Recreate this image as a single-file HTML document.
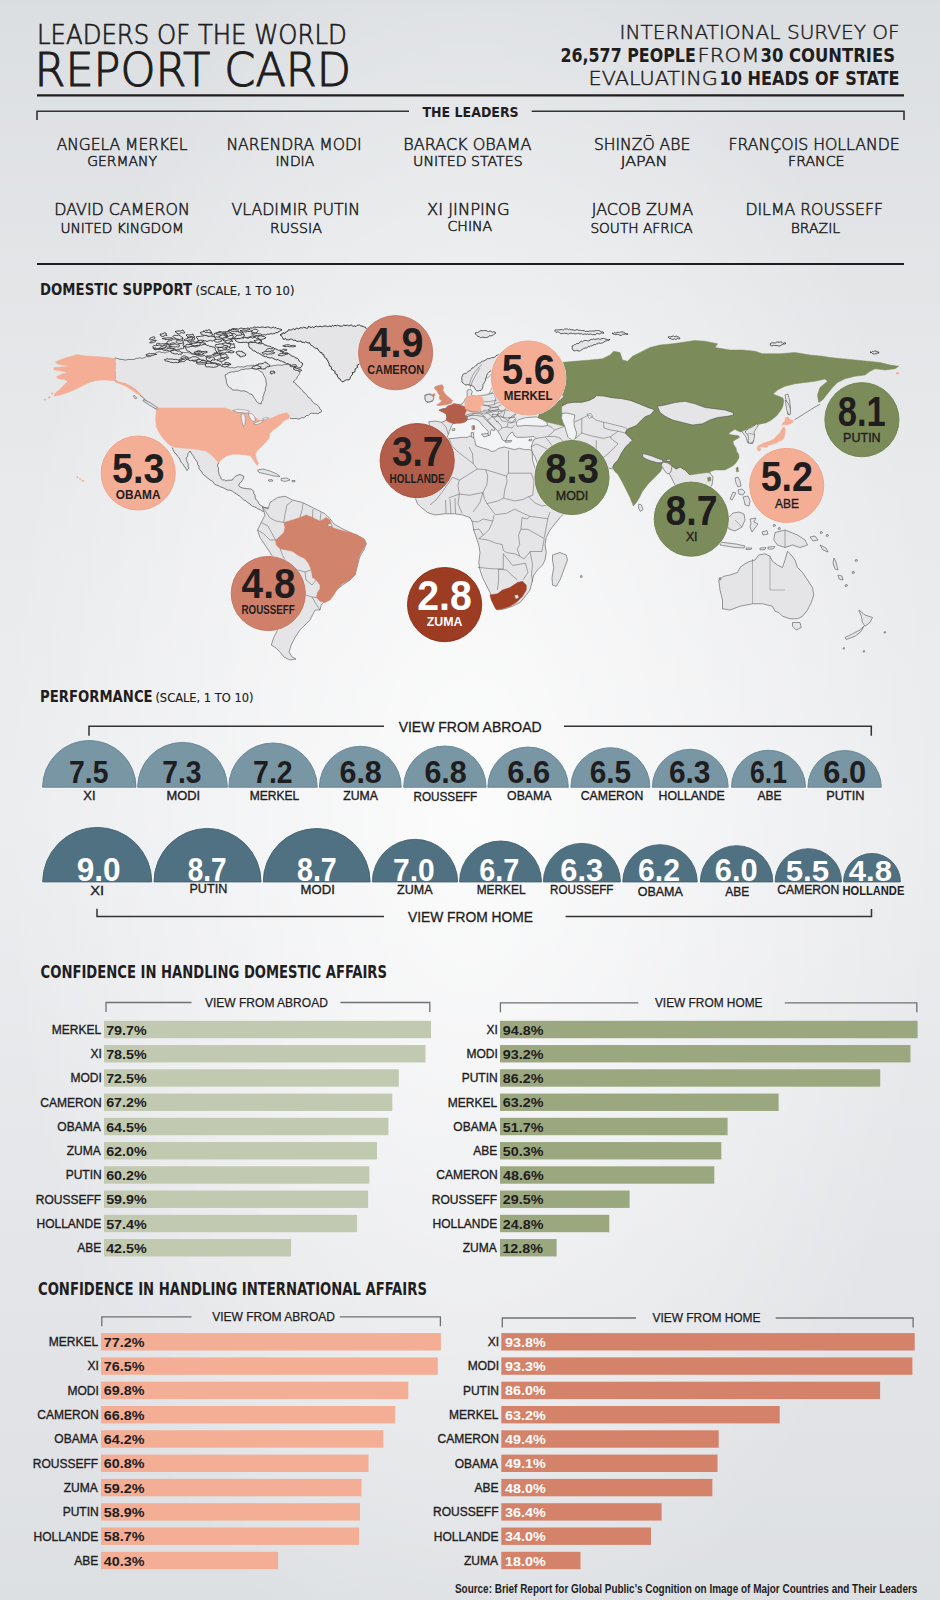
<!DOCTYPE html>
<html><head><meta charset="utf-8"><title>Leaders of the World Report Card</title>
<style>
html,body{margin:0;padding:0;width:940px;height:1600px;overflow:hidden;background:#e8e9eb}
svg{display:block}

</style></head><body>
<svg width="940" height="1600" viewBox="0 0 940 1600" font-family="Liberation Sans, sans-serif">
<defs>
<linearGradient id="bg" gradientUnits="userSpaceOnUse" x1="0" y1="0" x2="0" y2="1600">
<stop offset="0" stop-color="#dbdee1"/>
<stop offset="0.006" stop-color="#dcdfe2"/>
<stop offset="0.316" stop-color="#e9eaec"/>
<stop offset="0.51" stop-color="#ecedef"/>
<stop offset="0.79" stop-color="#e4e5e8"/>
<stop offset="1" stop-color="#dde0e3"/>
</linearGradient>
<radialGradient id="hl" gradientUnits="userSpaceOnUse" cx="470" cy="800" r="470" gradientTransform="translate(470 800) scale(1 1.915) translate(-470 -800)">
<stop offset="0" stop-color="#ffffff" stop-opacity="0.83"/>
<stop offset="1" stop-color="#ffffff" stop-opacity="0"/>
</radialGradient>
</defs>
<rect x="0" y="0" width="940" height="1600" fill="url(#bg)"/>
<rect x="0" y="0" width="940" height="1600" fill="url(#hl)"/>
<text x="37.03" y="44.30" font-size="26.34" font-family="DejaVu Sans" font-weight="200" fill="#1f1d1e" stroke="#1f1d1e" stroke-width="0.7" textLength="309.81" lengthAdjust="spacingAndGlyphs">LEADERS OF THE WORLD</text>
<text x="34.58" y="85.80" font-size="45.54" font-family="DejaVu Sans" font-weight="200" fill="#1f1d1e" stroke="#1f1d1e" stroke-width="1.15" textLength="316.39" lengthAdjust="spacingAndGlyphs">REPORT CARD</text>
<text x="619.59" y="38.50" font-size="20.30" font-family="DejaVu Sans" font-weight="200" fill="#1f1d1e" stroke="#1f1d1e" stroke-width="0.45" textLength="280.07" lengthAdjust="spacingAndGlyphs">INTERNATIONAL SURVEY OF</text>
<text x="560.45" y="61.80" font-size="19.62" font-family="DejaVu Sans" font-stretch="condensed" font-weight="bold" fill="#1f1d1e" textLength="135.30" lengthAdjust="spacingAndGlyphs">26,577 PEOPLE</text>
<text x="697.62" y="61.80" font-size="19.62" font-family="DejaVu Sans" font-weight="200" fill="#1f1d1e" stroke="#1f1d1e" stroke-width="0.45" textLength="61.78" lengthAdjust="spacingAndGlyphs">FROM</text>
<text x="760.51" y="61.80" font-size="19.62" font-family="DejaVu Sans" font-stretch="condensed" font-weight="bold" fill="#1f1d1e" textLength="134.49" lengthAdjust="spacingAndGlyphs">30 COUNTRIES</text>
<text x="588.64" y="85.00" font-size="19.62" font-family="DejaVu Sans" font-weight="200" fill="#1f1d1e" stroke="#1f1d1e" stroke-width="0.45" textLength="129.31" lengthAdjust="spacingAndGlyphs">EVALUATING</text>
<text x="719.62" y="85.00" font-size="19.62" font-family="DejaVu Sans" font-stretch="condensed" font-weight="bold" fill="#1f1d1e" textLength="179.83" lengthAdjust="spacingAndGlyphs">10 HEADS OF STATE</text>
<path d="M37.00 95.40 L904.00 95.40" fill="none" stroke="#1f1d1e" stroke-width="2.2"/>
<path d="M37.00 120.00 L37.00 111.20 L409.00 111.20" fill="none" stroke="#333" stroke-width="1.6"/>
<path d="M531.70 111.20 L904.00 111.20 L904.00 120.00" fill="none" stroke="#333" stroke-width="1.6"/>
<text x="422.54" y="116.90" font-size="14.40" font-family="DejaVu Sans" font-weight="bold" fill="#1f1d1e" textLength="96.08" lengthAdjust="spacingAndGlyphs">THE LEADERS</text>
<text x="56.64" y="150.10" font-size="16.32" font-family="DejaVu Sans" font-weight="200" fill="#262626" stroke="#262626" stroke-width="0.55" textLength="130.85" lengthAdjust="spacingAndGlyphs">ANGELA MERKEL</text>
<text x="87.24" y="166.40" font-size="13.99" font-family="DejaVu Sans" font-weight="200" fill="#262626" stroke="#262626" stroke-width="0.55" textLength="69.79" lengthAdjust="spacingAndGlyphs">GERMANY</text>
<text x="226.42" y="150.10" font-size="16.32" font-family="DejaVu Sans" font-weight="200" fill="#262626" stroke="#262626" stroke-width="0.55" textLength="135.20" lengthAdjust="spacingAndGlyphs">NARENDRA MODI</text>
<text x="275.42" y="166.40" font-size="13.99" font-family="DejaVu Sans" font-weight="200" fill="#262626" stroke="#262626" stroke-width="0.55" textLength="38.74" lengthAdjust="spacingAndGlyphs">INDIA</text>
<text x="403.34" y="150.10" font-size="16.32" font-family="DejaVu Sans" font-weight="200" fill="#262626" stroke="#262626" stroke-width="0.55" textLength="128.18" lengthAdjust="spacingAndGlyphs">BARACK OBAMA</text>
<text x="413.05" y="166.40" font-size="13.99" font-family="DejaVu Sans" font-weight="200" fill="#262626" stroke="#262626" stroke-width="0.55" textLength="109.58" lengthAdjust="spacingAndGlyphs">UNITED STATES</text>
<text x="593.92" y="150.10" font-size="16.32" font-family="DejaVu Sans" font-weight="200" fill="#262626" stroke="#262626" stroke-width="0.55" textLength="96.37" lengthAdjust="spacingAndGlyphs">SHINZŌ ABE</text>
<text x="620.82" y="166.40" font-size="13.99" font-family="DejaVu Sans" font-weight="200" fill="#262626" stroke="#262626" stroke-width="0.55" textLength="46.64" lengthAdjust="spacingAndGlyphs">JAPAN</text>
<text x="728.59" y="150.10" font-size="16.32" font-family="DejaVu Sans" font-weight="200" fill="#262626" stroke="#262626" stroke-width="0.55" textLength="171.11" lengthAdjust="spacingAndGlyphs">FRANÇOIS HOLLANDE</text>
<text x="787.99" y="166.40" font-size="13.99" font-family="DejaVu Sans" font-weight="200" fill="#262626" stroke="#262626" stroke-width="0.55" textLength="56.57" lengthAdjust="spacingAndGlyphs">FRANCE</text>
<text x="54.29" y="215.10" font-size="16.46" font-family="DejaVu Sans" font-weight="200" fill="#262626" stroke="#262626" stroke-width="0.55" textLength="135.50" lengthAdjust="spacingAndGlyphs">DAVID CAMERON</text>
<text x="60.47" y="232.70" font-size="14.27" font-family="DejaVu Sans" font-weight="200" fill="#262626" stroke="#262626" stroke-width="0.55" textLength="123.33" lengthAdjust="spacingAndGlyphs">UNITED KINGDOM</text>
<text x="231.52" y="215.10" font-size="16.46" font-family="DejaVu Sans" font-weight="200" fill="#262626" stroke="#262626" stroke-width="0.55" textLength="128.48" lengthAdjust="spacingAndGlyphs">VLADIMIR PUTIN</text>
<text x="269.96" y="232.70" font-size="14.27" font-family="DejaVu Sans" font-weight="200" fill="#262626" stroke="#262626" stroke-width="0.55" textLength="51.91" lengthAdjust="spacingAndGlyphs">RUSSIA</text>
<text x="427.04" y="215.10" font-size="16.46" font-family="DejaVu Sans" font-weight="200" fill="#262626" stroke="#262626" stroke-width="0.55" textLength="82.70" lengthAdjust="spacingAndGlyphs">XI JINPING</text>
<text x="447.53" y="231.00" font-size="14.27" font-family="DejaVu Sans" font-weight="200" fill="#262626" stroke="#262626" stroke-width="0.55" textLength="44.74" lengthAdjust="spacingAndGlyphs">CHINA</text>
<text x="591.81" y="215.10" font-size="16.46" font-family="DejaVu Sans" font-weight="200" fill="#262626" stroke="#262626" stroke-width="0.55" textLength="101.41" lengthAdjust="spacingAndGlyphs">JACOB ZUMA</text>
<text x="590.38" y="232.70" font-size="14.27" font-family="DejaVu Sans" font-weight="200" fill="#262626" stroke="#262626" stroke-width="0.55" textLength="102.37" lengthAdjust="spacingAndGlyphs">SOUTH AFRICA</text>
<text x="745.39" y="215.10" font-size="16.46" font-family="DejaVu Sans" font-weight="200" fill="#262626" stroke="#262626" stroke-width="0.55" textLength="137.62" lengthAdjust="spacingAndGlyphs">DILMA ROUSSEFF</text>
<text x="790.70" y="232.70" font-size="14.27" font-family="DejaVu Sans" font-weight="200" fill="#262626" stroke="#262626" stroke-width="0.55" textLength="49.44" lengthAdjust="spacingAndGlyphs">BRAZIL</text>
<path d="M37.00 264.00 L904.00 264.00" fill="none" stroke="#1f1d1e" stroke-width="2.2"/>
<text x="40.09" y="295.10" font-size="16.60" font-family="DejaVu Sans" font-stretch="condensed" font-weight="bold" fill="#1f1d1e" textLength="152.08" lengthAdjust="spacingAndGlyphs">DOMESTIC SUPPORT</text>
<text x="195.51" y="295.10" font-size="11.80" font-family="DejaVu Sans" font-stretch="condensed" fill="#1f1d1e" stroke="#1f1d1e" stroke-width="0.15" textLength="98.98" lengthAdjust="spacingAndGlyphs">(SCALE, 1 TO 10)</text>
<g id="map">
<path d="M115 358 L125 360 L135 359 L145 357.5 L152 355 L158 352 L165 353 L172 351 L180 352 L190 353 L200 355 L210 357 L218 360 L224 365 L230 368 L240 367 L250 366 L258 365 L265 366 L272 366 L280 365 L288 364 L295 367 L300 372 L297 378 L293 382 L298 386 L305 393 L312 401 L318 406 L322 411 L318 414 L311 413 L305 417 L298 419 L290 418 L286 419 L281.25 421.25 L277.5 426.25 L273.75 430 L270 433.75 L269.5 438.75 L266.25 442.5 L261.25 446.25 L257.5 450 L256.25 453.75 L257.5 457.5 L258.75 462.5 L257.5 464.5 L255 460 L252.5 455 L248.75 453.75 L242.5 454.5 L236.25 453 L230 453.75 L225 457.5 L221.25 460 L218.75 462.5 L217.5 466 L218.75 472.5 L221 478.75 L226 481 L232.5 480 L236 476 L240 474.5 L243.75 476.25 L242.5 480 L238.75 485 L241 487.5 L247.5 488.75 L252.5 490 L255 495 L256.25 500 L260 505 L265 507.5 L269 508.5 L268 511 L263.75 511.25 L257.5 508.75 L252.5 506.25 L247.5 502.5 L242.5 498.75 L237.5 495 L232.5 491.25 L227.5 490 L222.5 487.5 L216.25 485 L210 480 L203.75 475 L200 470 L197.5 462.5 L192.5 455 L190 451 L186 458 L189 468 L187 470.5 L182.5 463.75 L177.5 456.25 L173.75 451.25 L172 447.5 L171.25 445 L167.5 441.25 L162.5 436.25 L158.75 430 L156.25 422.5 L155 415 L155.5 408.75 L153.75 406.25 L147.5 402.5 L141.25 396.25 L136 390 L129 386 L120 382.5 L115 381 Z" fill="#e5e5e7"/>
<path d="M115.00 358.00 L116.68 358.28 L118.32 358.73 L119.91 359.46 L121.67 359.30 L123.33 359.68 L125.00 360.00 L126.68 359.93 L128.30 359.32 L130.00 359.51 L131.68 359.48 L133.37 359.49 L135.00 359.00 L136.60 358.31 L138.30 358.29 L139.93 357.80 L141.72 358.34 L143.36 357.96 L145.00 357.50 L146.58 356.40 L148.68 356.75 L150.42 356.11 L152.00 355.00 L153.58 354.40 L155.06 353.61 L156.33 352.41 L158.00 352.00 L159.83 351.72 L161.50 352.53 L163.32 352.27 L165.00 353.00 L166.66 352.17 L168.42 351.73 L170.11 351.00 L172.00 351.00 L173.60 351.16 L175.21 351.34 L176.75 351.97 L178.40 351.82 L180.00 352.00 L181.65 352.32 L183.33 352.33 L184.98 352.68 L186.67 352.62 L188.36 352.59 L190.00 353.00 L191.56 353.87 L193.23 354.20 L194.93 354.37 L196.62 354.56 L198.37 354.47 L200.00 355.00 L201.72 355.04 L203.38 355.44 L205.09 355.54 L206.61 356.62 L208.35 356.56 L210.00 357.00 L211.47 357.96 L213.24 358.08 L214.62 359.27 L216.27 359.76 L218.00 360.00 L219.85 360.83 L221.20 362.25 L222.21 364.10 L224.00 365.00 L225.51 365.72 L226.76 366.97 L228.55 367.15 L230.00 368.00 L231.62 367.37 L233.35 367.81 L235.03 367.80 L236.64 367.08 L238.29 366.71 L240.00 367.00 L241.65 366.65 L243.38 367.17 L245.03 366.78 L246.62 365.92 L248.31 365.89 L250.00 366.00 L251.55 365.36 L253.14 365.12 L254.84 365.72 L256.36 364.85 L258.00 365.00 L259.74 365.31 L261.51 365.44 L263.30 365.41 L265.00 366.00 L266.75 366.26 L268.50 365.59 L270.25 366.16 L272.00 366.00 L273.55 365.38 L275.19 365.51 L276.76 365.09 L278.37 364.95 L280.00 365.00 L281.66 365.31 L283.24 364.93 L284.77 364.19 L286.45 364.62 L288.00 364.00 L289.88 364.46 L291.55 365.39 L293.10 366.61 L295.00 367.00 L296.14 368.36 L297.81 369.19 L298.37 371.13 L300.00 372.00 L299.53 373.64 L298.74 375.12 L297.48 376.37 L297.00 378.00 L295.80 379.47 L294.49 380.83 L293.00 382.00 L294.54 382.63 L295.78 383.65 L296.69 385.07 L298.00 386.00 L299.37 386.97 L300.25 388.41 L301.60 389.40 L302.70 390.63 L303.48 392.19 L305.00 393.00 L306.18 394.32 L307.27 395.72 L308.20 397.27 L309.93 398.10 L311.12 399.42 L312.00 401.00 L313.21 402.60 L314.78 403.77 L316.68 404.54 L318.00 406.00 L319.27 407.04 L319.79 408.66 L320.62 410.05 L322.00 411.00 L320.87 412.27 L319.04 412.60 L318.00 414.00 L316.31 413.33 L314.52 413.39 L312.74 413.34 L311.00 413.00 L309.74 414.36 L308.28 415.42 L306.22 415.58 L305.00 417.00 L303.33 417.78 L301.44 417.78 L299.82 418.76 L298.00 419.00 L296.44 418.45 L294.81 418.49 L293.17 418.63 L291.56 418.55 L290.00 418.00" fill="none" stroke="#333" stroke-width="0.6" stroke-linejoin="round"/>
<path d="M218.75 462.50 L217.90 464.17 L217.50 466.00 L218.28 467.54 L218.42 469.19 L218.37 470.89 L218.75 472.50 L218.95 474.19 L219.76 475.67 L220.66 477.11 L221.00 478.75 L222.48 479.92 L224.47 479.95 L226.00 481.00 L227.54 480.22 L229.21 480.25 L230.87 480.19 L232.50 480.00 L233.30 478.35 L234.57 477.10 L236.00 476.00 L237.95 475.11 L240.00 474.50 L241.84 475.45 L243.75 476.25 L243.51 478.25 L242.50 480.00 L241.37 481.76 L239.66 483.08 L238.75 485.00 L239.48 486.60 L241.00 487.50 L242.59 487.98 L244.21 488.33 L245.86 488.53 L247.50 488.75 L249.26 488.78 L250.96 489.09 L252.50 490.00 L253.81 491.43 L253.76 493.54 L255.00 495.00 L255.20 496.72 L255.34 498.46 L256.25 500.00 L257.92 501.35 L258.63 503.42 L260.00 505.00 L261.68 505.82 L263.22 506.89 L265.00 507.50 L267.05 507.81 L269.00 508.50 L268.00 511.00 L265.84 510.58 L263.75 511.25 L262.01 511.06 L260.64 509.95 L259.16 509.13 L257.50 508.75 L256.03 507.52 L254.28 506.85 L252.50 506.25 L250.97 504.82 L249.36 503.49 L247.50 502.50 L246.11 500.88 L244.07 500.13 L242.50 498.75 L240.96 497.34 L239.43 495.90 L237.50 495.00 L236.08 493.42 L234.11 492.57 L232.50 491.25 L230.91 490.52 L229.26 490.03 L227.50 490.00 L225.87 489.10 L224.23 488.21 L222.50 487.50 L220.89 487.00 L219.41 486.17 L217.86 485.51 L216.25 485.00 L214.71 484.36 L213.85 482.88 L212.84 481.58 L211.51 480.67 L210.00 480.00 L208.91 478.80 L207.42 478.10 L206.41 476.80 L205.06 475.93 L203.75 475.00 L202.45 473.37 L201.55 471.44 L200.00 470.00 L198.94 468.27 L199.01 466.16 L197.63 464.54 L197.50 462.50 L196.59 460.94 L195.48 459.51 L194.25 458.16 L193.68 456.38 L192.50 455.00 L191.25 453.00 L190.00 451.00 L189.09 452.34 L188.00 453.57 L187.83 455.33 L187.27 456.87 L186.00 458.00 L186.71 459.60 L186.81 461.39 L187.81 462.91 L188.35 464.56 L188.07 466.46 L189.00 468.00 L187.86 469.14 L187.00 470.50 L186.05 469.19 L185.56 467.56 L184.14 466.56 L183.55 465.00 L182.50 463.75 L181.22 462.43 L180.44 460.79 L179.78 459.06 L178.88 457.50 L177.50 456.25 L176.58 454.33 L174.90 452.99 L173.75 451.25 L172.96 449.34 L172.00 447.50" fill="none" stroke="#333" stroke-width="0.6" stroke-linejoin="round"/>
<path d="M155.50 408.75 L153.75 406.25 L152.08 405.49 L150.42 404.72 L149.06 403.44 L147.50 402.50 L146.51 400.99 L145.27 399.73 L143.91 398.59 L142.85 397.15 L141.25 396.25 L140.01 395.16 L138.87 393.98 L138.06 392.53 L136.86 391.41 L136.00 390.00 L134.44 389.47 L133.15 388.48 L131.87 387.48 L130.40 386.81 L129.00 386.00 L127.43 385.61 L126.14 384.49 L124.69 383.76 L122.98 383.72 L121.33 383.52 L120.00 382.50 L118.19 382.49 L116.78 381.11 L115.00 381.00 L114.50 379.36 L115.23 377.71 L115.08 376.07 L114.79 374.43 L115.32 372.79 L114.47 371.14 L114.60 369.50 L114.95 367.86 L114.48 366.21 L115.36 364.57 L114.71 362.93 L114.60 361.29 L114.50 359.64 L115.00 358.00" fill="none" stroke="#333" stroke-width="0.6" stroke-linejoin="round"/>
<path d="M225 375 L225.28 376.7 L225.89 378.32 L226.11 380.03 L226.5 381.71 L226.76 383.42 L227.5 385 L228.39 386.61 L229.86 387.64 L231.48 388.52 L232.5 390 L234.29 390.15 L236.11 390.01 L237.91 390 L239.65 390.68 L241.41 391.13 L243.25 390.72 L245 391.25 L246.61 391.78 L248.08 392.6 L249.4 393.69 L250.99 394.27 L252.5 395 L253.4 396.57 L254.27 398.16 L255.6 399.44 L256.23 401.18 L257.5 402.5 L259.23 403.55 L261.25 403.75 L261.31 401.88 L262.71 400.38 L262.99 398.57 L262.86 396.64 L263.75 395 L264.12 393.32 L264.72 391.7 L265.44 390.11 L265.29 388.3 L265.91 386.69 L266.25 385 L266.35 383.06 L265.95 381.2 L265.79 379.29 L265 377.5 L263.96 375.69 L263.15 373.75 L262 372 L260.35 371.54 L259.11 370.28 L257.66 369.44 L256 369 L254.01 368.68 L252.02 368.43 L250 368.5 L248.05 369.14 L245.93 368.73 L244 369.5 L242.24 369.43 L240.61 369.87 L239.11 370.77 L237.5 371.25 L235.57 371.25 L233.78 372.07 L231.8 371.74 L230 372.5 L228.16 372.98 L226.74 374.32 Z" fill="url(#bg)"/>
<path d="M225 375 L225.28 376.7 L225.89 378.32 L226.11 380.03 L226.5 381.71 L226.76 383.42 L227.5 385 L228.39 386.61 L229.86 387.64 L231.48 388.52 L232.5 390 L234.29 390.15 L236.11 390.01 L237.91 390 L239.65 390.68 L241.41 391.13 L243.25 390.72 L245 391.25 L246.61 391.78 L248.08 392.6 L249.4 393.69 L250.99 394.27 L252.5 395 L253.4 396.57 L254.27 398.16 L255.6 399.44 L256.23 401.18 L257.5 402.5 L259.23 403.55 L261.25 403.75 L261.31 401.88 L262.71 400.38 L262.99 398.57 L262.86 396.64 L263.75 395 L264.12 393.32 L264.72 391.7 L265.44 390.11 L265.29 388.3 L265.91 386.69 L266.25 385 L266.35 383.06 L265.95 381.2 L265.79 379.29 L265 377.5 L263.96 375.69 L263.15 373.75 L262 372 L260.35 371.54 L259.11 370.28 L257.66 369.44 L256 369 L254.01 368.68 L252.02 368.43 L250 368.5 L248.05 369.14 L245.93 368.73 L244 369.5 L242.24 369.43 L240.61 369.87 L239.11 370.77 L237.5 371.25 L235.57 371.25 L233.78 372.07 L231.8 371.74 L230 372.5 L228.16 372.98 L226.74 374.32 Z" fill="url(#hl)" stroke="#333" stroke-width="0.6" stroke-linejoin="round"/>
<path d="M222 333 L223.06 332.01 L224.47 332.05 L225.77 331.75 L227.12 331.6 L228.24 330.8 L229.28 329.75 L230.89 330.35 L232 329.5 L233.28 328.77 L234.71 329.67 L235.96 328.67 L237.31 328.77 L238.7 329.28 L239.95 328.25 L241.29 328.14 L242.67 328.52 L244.03 328.69 L245.38 328.72 L246.69 328.39 L248 328 L249.44 328.52 L250.8 327.79 L252.24 328.33 L253.56 327.02 L254.97 327.11 L256.4 327.44 L257.78 327.01 L259.22 327.52 L260.61 327.29 L262 327 L263.4 327.08 L264.78 327.58 L266.2 327.23 L267.61 326.94 L269.01 327.08 L270.38 327.78 L271.78 327.91 L273.21 326.99 L274.58 327.94 L276 327.5 L276.95 328.61 L278.39 328.53 L279.56 329.09 L280.96 329.11 L282 330 L280.81 330.54 L279.66 331.16 L278.43 331.62 L277.63 332.92 L275.87 332.33 L275 333.5 L273.7 333.63 L272.42 333.94 L271.05 333.53 L269.79 334.01 L268.5 334.26 L267.17 334.13 L265.97 335.15 L264.59 334.65 L263.31 334.97 L262 335 L260.56 334.59 L259.24 334.86 L258.05 335.99 L256.67 335.93 L255.42 336.63 L254.02 336.42 L252.59 336.12 L251.24 336.22 L250 337 L248.67 337.2 L247.37 337.59 L246.05 337.93 L244.65 337.5 L243.26 337.24 L242.06 338.51 L240.62 337.78 L239.42 339 L238 338.5 L236.55 338.86 L235.12 338.74 L233.73 338.02 L232.27 338.46 L230.85 338.35 L229.44 337.9 L228 338 L226.65 337.59 L226.21 336.09 L224.66 335.91 L224.01 334.66 L222.78 334.1 Z" fill="#e5e5e7" stroke="#222" stroke-width="0.85" stroke-linejoin="round"/>
<path d="M214 334 L215.04 333.11 L216.42 333.04 L217.57 332.42 L218.73 331.84 L220 331.5 L221.53 331.76 L222.99 332.29 L224.62 332.16 L226 333 L225.29 334.29 L223.87 334.87 L222.86 335.86 L222 337 L220.6 337.06 L219.16 336.71 L217.79 337.14 L216.36 336.9 L215 337.5 L214.14 335.85 Z" fill="#e5e5e7" stroke="#222" stroke-width="0.85" stroke-linejoin="round"/>
<path d="M235 338.5 L236.41 338.71 L237.79 338.68 L239.18 338.69 L240.48 337.74 L241.85 337.62 L243.3 338.34 L244.59 337.23 L246 337.5 L247.3 338.25 L248.64 338.15 L250.02 337.15 L251.35 337.36 L252.65 338.09 L254.01 337.5 L255.36 337.33 L256.65 338.41 L258 338 L259.4 338.91 L260.42 340.32 L262 341 L260.76 341.76 L259.36 341.63 L257.95 341.5 L256.79 342.66 L255.41 342.66 L254 342.5 L252.67 342.24 L251.33 341.92 L250 341.84 L248.67 343.04 L247.33 342.49 L246 342.14 L244.67 342.5 L243.33 342.24 L242 342.5 L240.39 342.55 L238.85 342.33 L237.37 341.91 L236 341 L234.9 339.99 Z" fill="#e5e5e7" stroke="#222" stroke-width="0.85" stroke-linejoin="round"/>
<path d="M222 339 L223.34 338.99 L224.67 338.85 L226.01 338.85 L227.3 338.17 L228.64 338.14 L230 338.5 L231.29 339.21 L231.66 340.84 L233 341.5 L231.46 341.13 L230.07 341.52 L228.92 342.95 L227.53 343.3 L226 343 L225.45 341.55 L223.96 341.04 L223.26 339.74 Z" fill="#e5e5e7" stroke="#222" stroke-width="0.85" stroke-linejoin="round"/>
<path d="M196 337 L197.39 336.55 L198.85 336.53 L200.29 336.38 L201.7 336.05 L203.16 336.07 L204.47 335.04 L206 335.5 L207.3 335.95 L208.61 336.31 L210.06 335.56 L211.34 336.1 L212.63 336.67 L214 336.5 L214.78 337.6 L215.7 338.62 L216 340 L214.79 340.68 L213.43 340.41 L212.25 341.31 L210.77 340.31 L209.5 340.65 L208.24 341 L207 341.5 L205.56 340.83 L204.02 340.99 L202.49 341.13 L201.02 340.69 L199.5 340.66 L198 340.5 L197.92 339 L197.04 337.95 Z" fill="#e5e5e7" stroke="#222" stroke-width="0.85" stroke-linejoin="round"/>
<path d="M186 335 L187.35 334.46 L188.88 335.17 L190.25 334.74 L191.66 334.59 L193 334 L193.63 335.74 L195 337 L193.62 337.33 L192.12 336.85 L190.72 337.07 L189.36 337.53 L188 338 L187.31 336.29 Z" fill="#e5e5e7" stroke="#222" stroke-width="0.85" stroke-linejoin="round"/>
<path d="M168 341 L169.42 341.03 L170.63 340.21 L172.08 340.3 L173.19 339.08 L174.61 339.12 L176 339 L177.41 339.36 L178.99 339.14 L180.26 340.01 L181.55 340.79 L183 341 L183.03 342.42 L183.77 343.75 L182.98 345.29 L183.57 346.63 L184 348 L182.66 348.62 L181.14 348.58 L179.77 349.11 L178.39 349.56 L177 350 L175.56 349.75 L174.39 348.53 L172.85 348.61 L171.48 348.13 L170 348 L169.29 346.45 L168.54 344.93 L167 344 L166.87 342.29 Z" fill="#e5e5e7" stroke="#222" stroke-width="0.85" stroke-linejoin="round"/>
<path d="M186 345 L187.46 344.87 L188.92 344.76 L190.22 343.81 L191.69 343.72 L193.02 342.95 L194.49 342.87 L196 343 L197.45 343.04 L198.94 342.87 L200.34 343.3 L201.63 344.42 L203.13 344.14 L204.57 344.3 L206 344.5 L207.14 345.54 L208.64 345.42 L209.79 346.41 L211.28 346.35 L212.54 347 L214 347 L215.26 347.94 L215.38 349.57 L215.94 350.94 L217 352 L216.15 353.22 L214.37 352.81 L213.74 354.41 L212.35 354.7 L211.4 355.74 L210 356 L208.57 356.01 L207.14 355.84 L205.71 356.62 L204.29 355.38 L202.86 356.11 L201.43 355.96 L200 356 L198.76 355.44 L197.37 355.32 L196.05 355 L194.93 354.08 L193.6 353.78 L192.19 353.72 L191 353 L189.94 351.76 L188.32 351.22 L186.82 350.53 L186 349 L185.64 347.67 L185.36 346.33 Z" fill="#e5e5e7" stroke="#222" stroke-width="0.85" stroke-linejoin="round"/>
<path d="M218 345 L219.42 344.28 L221.06 344.85 L222.47 344.1 L224 344 L224.27 345.54 L225.2 346.68 L226.79 347.43 L227 349 L225.4 349.16 L224.18 349.97 L223.56 351.76 L222 352 L220.92 350.83 L219.29 350.75 L218 350 L217.97 348.33 L218.66 346.67 Z" fill="#e5e5e7" stroke="#222" stroke-width="0.85" stroke-linejoin="round"/>
<path d="M228 344 L229.47 343.52 L231 343.78 L232.55 344.24 L234 343.5 L234.03 345.07 L234.71 346.49 L235 348 L233.27 347.5 L231.62 347.89 L230 348.5 L229.47 346.94 L228.17 345.72 Z" fill="#e5e5e7" stroke="#222" stroke-width="0.85" stroke-linejoin="round"/>
<path d="M220 355 L221.53 354.92 L222.99 354.44 L224.43 353.84 L226 354 L227.1 355.58 L227 357.5 L225.5 357.59 L224.04 358.27 L222.51 357.95 L221 358 L220.72 356.43 Z" fill="#e5e5e7" stroke="#222" stroke-width="0.85" stroke-linejoin="round"/>
<path d="M248 343 L249.33 342.77 L250.63 342.34 L252.01 342.61 L253.32 342.22 L254.71 342.55 L256 342 L257.24 342.42 L258.3 343.42 L259.57 343.73 L260.91 343.81 L262.36 343.52 L263.66 343.73 L264.59 345.15 L266 345 L267.1 345.87 L268.44 346.16 L269.82 346.32 L271.12 346.7 L272.15 347.74 L273.47 348.08 L274.7 348.62 L276 349 L277.18 349.67 L278.37 350.33 L279.91 350.1 L281.13 350.67 L282 352.12 L283.28 352.54 L284.55 352.99 L286 353 L287.54 353.05 L288.77 353.7 L289.89 354.59 L291.05 355.41 L292.17 356.28 L293.75 356.25 L294.72 357.43 L296 358 L297.39 358.4 L298.38 359.27 L298.84 360.76 L299.95 361.48 L300.88 362.43 L302.12 363.01 L303 364 L302.02 365.35 L301.32 366.91 L300 368 L298.61 367.88 L297.42 367 L296.11 366.54 L294.52 367.24 L293.2 366.85 L292 366 L290.86 364.95 L289.41 364.51 L288.17 363.66 L286.49 363.69 L285.29 362.76 L284 362 L282.65 361.95 L281.62 360.83 L280.2 361.05 L279.06 360.29 L277.95 359.47 L276.43 359.98 L275.27 359.31 L274 359 L272.85 358.29 L271.67 357.69 L270.22 357.97 L268.95 357.68 L267.59 357.67 L266.65 356.25 L265.08 356.94 L264 356 L262.41 355.86 L261.37 354.59 L259.99 354.02 L258.78 353.1 L257.21 352.92 L256 352 L255.01 350.88 L253.27 350.89 L252.18 349.93 L251.33 348.61 L250 348 L248.96 346.97 L248.74 345.6 L248.79 344.13 Z" fill="#e5e5e7" stroke="#222" stroke-width="0.85" stroke-linejoin="round"/>
<path d="M254 340.5 L255.52 340.65 L256.97 339.95 L258.46 339.63 L260 340 L261.15 341.02 L262 342.3 L260.47 342.11 L259.02 342.74 L257.54 343.21 L256 342.8 L255.22 341.46 Z" fill="#e5e5e7" stroke="#222" stroke-width="0.85" stroke-linejoin="round"/>
<path d="M258 364 L259.36 363.76 L260.81 363.9 L262.15 363.6 L263.47 363.23 L264.65 362.25 L266 362 L266.7 363.3 L268.19 363.81 L269.18 364.82 L270 366 L268.86 366.73 L267.33 366.66 L266.15 367.31 L265.36 368.72 L264 369 L262.47 368.94 L260.97 368.69 L259.47 368.44 L258 368 L257.85 366.67 L257.84 365.33 Z" fill="#e5e5e7" stroke="#222" stroke-width="0.85" stroke-linejoin="round"/>
<path d="M270 372 L271.23 371.25 L272.69 371.42 L274 371 L275 373 L273.57 372.93 L272.32 373.61 L271 374 Z" fill="#e5e5e7" stroke="#222" stroke-width="0.85" stroke-linejoin="round"/>
<path d="M160 334 L161.58 334.21 L163.01 333.59 L164.43 332.8 L166 333 L166.16 334.38 L167 335.5 L165.46 335.09 L164.03 336.05 L162.56 336.54 L161 336 Z" fill="#e5e5e7" stroke="#222" stroke-width="0.85" stroke-linejoin="round"/>
<path d="M175 331.5 L176.34 331.27 L177.68 331.06 L179.02 330.84 L180.45 331.14 L181.71 330.46 L183 330 L183.67 331.52 L185 332.5 L183.74 333.27 L182.33 332.77 L180.95 332.6 L179.74 333.74 L178.41 333.91 L177 333.5 L176.23 332.27 Z" fill="#e5e5e7" stroke="#222" stroke-width="0.85" stroke-linejoin="round"/>
<path d="M203 331 L204.48 331.35 L205.72 330.02 L207.23 330.59 L208.53 329.71 L210 330 L210.73 331.46 L212 332.5 L210.59 332.39 L209.23 333.06 L207.83 333.19 L206.37 332.53 L205 333 L204.02 331.98 Z" fill="#e5e5e7" stroke="#222" stroke-width="0.85" stroke-linejoin="round"/>
<path d="M240 330.5 L241.47 330.73 L242.84 330.07 L244.26 329.85 L245.78 330.58 L247.17 330.03 L248.57 329.63 L250 329.5 L250.96 330.54 L252 331.5 L250.47 331.33 L248.97 331.48 L247.45 331.32 L246.01 332.16 L244.46 331.71 L243 332.3 L241.62 331.2 Z" fill="#e5e5e7" stroke="#222" stroke-width="0.85" stroke-linejoin="round"/>
<path d="M153 347 L154.47 347.29 L155.86 347.02 L157.27 346.86 L158.68 346.74 L160 346 L160.47 347.86 L162 349 L160.57 349.01 L159.2 349.37 L157.76 349.31 L156.34 349.38 L155 350 L153.91 348.56 Z" fill="#e5e5e7" stroke="#222" stroke-width="0.85" stroke-linejoin="round"/>
<path d="M236 352 L237.48 351.64 L238.92 351.01 L240.56 351.58 L242 351 L242.51 352.49 L244.12 352.88 L245.33 353.67 L246 355 L244.63 355.89 L243.03 356.1 L241.59 356.78 L240 357 L239.51 355.34 L237.52 354.89 L236.79 353.42 Z" fill="#e5e5e7" stroke="#222" stroke-width="0.85" stroke-linejoin="round"/>
<path d="M206 358 L207.3 357.38 L208.68 358.04 L210.02 358.14 L211.31 357.22 L212.63 356.97 L214 357.5 L214.55 358.73 L215 360 L213.58 360.08 L212.12 359.83 L210.89 361.24 L209.48 361.34 L208 361 L206.63 359.74 Z" fill="#e5e5e7" stroke="#222" stroke-width="0.85" stroke-linejoin="round"/>
<path d="M172.7 338.4 L170.7 338.98 L169.18 339.56 L167.56 339.46 L165.97 339.6 L164.44 339.11 L162.23 338.62 L164.37 338.03 L165.97 338.14 L167.53 337.73 L169.4 337.87 L171.27 337.78 Z" fill="#e5e5e7" stroke="#222" stroke-width="0.8" stroke-linejoin="round"/>
<path d="M195.14 339.05 L193.7 339.84 L191.24 340.14 L189.56 338.7 L187.84 337.34 L189.77 336.71 L192 336.89 L193.89 337.76 Z" fill="#e5e5e7" stroke="#222" stroke-width="0.8" stroke-linejoin="round"/>
<path d="M169.86 345.29 L169.09 346.39 L166.75 346.44 L164.91 345.99 L163.98 345.04 L164.4 343.86 L166.87 343.64 L168.96 344.22 Z" fill="#e5e5e7" stroke="#222" stroke-width="0.8" stroke-linejoin="round"/>
<path d="M183.49 341.8 L182.76 343.08 L181.4 343.56 L179.96 343.38 L178.35 343.46 L176.89 342.79 L175.95 341.21 L177.76 340.16 L178.94 339.5 L180.28 339.33 L182.44 340.62 Z" fill="#e5e5e7" stroke="#222" stroke-width="0.8" stroke-linejoin="round"/>
<path d="M175.21 343.51 L174.74 344.88 L172.55 346 L170.05 346.51 L169.37 345.48 L169.47 344.27 L171.59 343.13 L173.87 342.84 Z" fill="#e5e5e7" stroke="#222" stroke-width="0.8" stroke-linejoin="round"/>
<path d="M179.48 345.72 L179.09 346.8 L177.78 347.23 L176.44 346.56 L175.14 347.12 L173.81 346.93 L172.36 346.71 L170.94 346.23 L169.43 346.48 L167.98 346.3 L166.12 344.96 L167.77 344.31 L169.55 344.23 L171.04 344.62 L172.52 344.59 L173.98 344.03 L175.29 343.99 L176.56 344.37 L177.79 345.01 L179.15 344.6 Z" fill="#e5e5e7" stroke="#222" stroke-width="0.8" stroke-linejoin="round"/>
<path d="M156.44 340.53 L155.07 341.6 L153.36 342.47 L151.25 342.92 L149.59 342.75 L151.15 341.63 L152.78 340.69 L155.04 340.23 Z" fill="#e5e5e7" stroke="#222" stroke-width="0.8" stroke-linejoin="round"/>
<path d="M200.47 344.61 L199.79 345.67 L198.48 345.92 L197.23 346.47 L195.95 346.91 L194.54 346.62 L193.26 345.97 L191.93 346.03 L190.58 346.28 L188.83 345.73 L190.29 344.83 L191.6 344.46 L192.97 344.4 L194.3 344.13 L195.82 344.08 L197.32 343.72 L198.85 343.92 Z" fill="#e5e5e7" stroke="#222" stroke-width="0.8" stroke-linejoin="round"/>
<path d="M182.72 339.32 L182.42 340.53 L180.46 341.1 L178.71 340.81 L177.78 339.94 L178.34 338.82 L180.14 338.52 L182.1 338.26 Z" fill="#e5e5e7" stroke="#222" stroke-width="0.8" stroke-linejoin="round"/>
<path d="M194.55 345.21 L194.12 346.26 L192.53 345.86 L191.05 346.45 L189.55 346.83 L187.77 347.18 L185.97 346.89 L184.06 346.31 L185.63 345.33 L187.34 344.34 L189.31 344.5 L191.09 344.52 L192.88 344.61 Z" fill="#e5e5e7" stroke="#222" stroke-width="0.8" stroke-linejoin="round"/>
<path d="M155.14 337.43 L154.33 338.73 L152.37 339.56 L150.57 339.89 L149.49 339.39 L149.93 338.31 L151.65 337.48 L153.85 336.75 Z" fill="#e5e5e7" stroke="#222" stroke-width="0.8" stroke-linejoin="round"/>
<path d="M203.85 340.43 L202.7 341.41 L201.4 342.2 L199.98 342.71 L198.51 342.51 L197.12 343.02 L196.09 342.72 L195.67 342 L196.99 341.82 L198.19 341.27 L199.39 340.73 L200.74 340.11 L202.2 340.31 Z" fill="#e5e5e7" stroke="#222" stroke-width="0.8" stroke-linejoin="round"/>
<path d="M183.28 338.21 L180.9 339.11 L179.32 339.56 L177.73 339.19 L176.24 338.78 L174.93 337.98 L173.65 337.37 L172.72 336.31 L174.89 335.19 L176.71 335.54 L178.48 335 L179.97 335.77 L181.47 336.51 Z" fill="#e5e5e7" stroke="#222" stroke-width="0.8" stroke-linejoin="round"/>
<path d="M170.62 346.26 L169.21 346.66 L167.93 347.37 L166.63 346.64 L165.17 347.36 L163.84 346.89 L162.46 346.79 L160.74 346.85 L159.25 345.77 L157.54 345.74 L156.15 344.17 L157.38 343.24 L158.9 343.47 L160.23 343.9 L161.57 343.97 L162.92 343.6 L164.32 344.3 L165.99 343.74 L167.36 344.55 L169.12 345.16 Z" fill="#e5e5e7" stroke="#222" stroke-width="0.8" stroke-linejoin="round"/>
<path d="M201.61 344.54 L200.2 344.59 L198.9 345.14 L197.37 345.33 L196.04 344.59 L194.6 344.31 L193.18 343.99 L191.99 343.01 L190.48 342.96 L189.07 342.6 L187.51 341.34 L189.51 340.9 L190.86 341.53 L192.37 341.06 L193.75 341.49 L195.32 342.27 L197.09 342.28 L198.73 342.81 L199.91 344.11 Z" fill="#e5e5e7" stroke="#222" stroke-width="0.8" stroke-linejoin="round"/>
<path d="M230.62 345.3 L230.12 346.5 L228.36 347.09 L226.55 346.7 L224.89 345.75 L222.99 345.56 L221.72 344.05 L223.75 343.16 L225.4 342.9 L227.02 343.34 L228.83 343.71 L230.65 343.97 Z" fill="#e5e5e7" stroke="#222" stroke-width="0.8" stroke-linejoin="round"/>
<path d="M205.55 343.35 L204.15 343.99 L202.78 344.69 L201.49 345.26 L200.05 344.63 L198.78 345.42 L197.41 345.36 L196.02 345.62 L194.63 345.92 L193.23 345.44 L191.36 344.83 L191.42 343.71 L192.81 343.22 L194.27 343.17 L195.75 343.21 L197.13 342.7 L198.56 342.62 L199.96 343.11 L201.39 342.97 L202.82 342.63 L204.18 343.1 Z" fill="#e5e5e7" stroke="#222" stroke-width="0.8" stroke-linejoin="round"/>
<path d="M227.62 346.66 L226.08 347.41 L224.55 347.88 L223 348.27 L221.69 347.54 L220.29 347.53 L218.86 347.75 L217.42 346.8 L218.37 345.71 L219.91 345.82 L221.4 344.97 L222.96 345.47 L224.46 345.37 L225.95 345.82 L227.46 345.61 Z" fill="#e5e5e7" stroke="#222" stroke-width="0.8" stroke-linejoin="round"/>
<path d="M226.59 335.21 L225.34 336.26 L223.2 337.11 L221.02 337.09 L218.86 336.8 L220.48 335.64 L222.72 334.78 L224 334.36 L225.34 334.56 Z" fill="#e5e5e7" stroke="#222" stroke-width="0.8" stroke-linejoin="round"/>
<path d="M233.82 338.72 L232.31 339.1 L230.84 339.63 L228.96 340.03 L227.06 340.33 L225.62 340.77 L224.36 339.45 L222.92 339.89 L221.7 339.02 L221.63 337.84 L222.99 338.15 L224.3 337.38 L225.66 337.81 L226.99 337.62 L228.57 337.41 L230.14 337.55 L231.71 337.74 Z" fill="#e5e5e7" stroke="#222" stroke-width="0.8" stroke-linejoin="round"/>
<path d="M222.1 340.75 L220.03 341.65 L217.73 342.32 L215.24 341.76 L214.16 340.83 L214.61 339.64 L216.16 339.51 L217.7 339.29 L219.15 339.24 L220.55 339.68 Z" fill="#e5e5e7" stroke="#222" stroke-width="0.8" stroke-linejoin="round"/>
<path d="M224.02 345.59 L222.99 346.87 L221.31 347.3 L219.58 347.35 L217.96 347.33 L216.36 347.06 L215.08 345.95 L215.71 344.58 L217.61 344.5 L219.45 344.03 L221.31 343.88 L223.13 344.31 Z" fill="#e5e5e7" stroke="#222" stroke-width="0.8" stroke-linejoin="round"/>
<path d="M233.2 337.33 L231.75 338.31 L230.24 338.8 L228.67 338.58 L227.41 337.69 L225.92 337.31 L224.57 335.9 L226.3 335 L227.79 334.55 L229.35 334.5 L230.47 335.41 L231.88 335.38 L233.19 335.71 Z" fill="#e5e5e7" stroke="#222" stroke-width="0.8" stroke-linejoin="round"/>
<path d="M233.12 333.43 L231.73 335.26 L230.09 335.45 L228.65 336.34 L227.03 336.59 L225.36 336.6 L224 337.86 L222.31 337.78 L221.3 336.59 L222.42 335.08 L223.46 334.07 L224.67 333.4 L226.12 333.22 L227.71 333.24 L229.27 333.09 L230.79 332.66 Z" fill="#e5e5e7" stroke="#222" stroke-width="0.8" stroke-linejoin="round"/>
<path d="M192.73 338.03 L192.25 339.15 L190.53 339.96 L188.63 340.03 L186.94 340.5 L185.21 340.73 L183.82 340.11 L185.59 338.96 L187.01 338.8 L188.13 337.89 L189.92 337.71 L191.68 337.3 Z" fill="#e5e5e7" stroke="#222" stroke-width="0.8" stroke-linejoin="round"/>
<path d="M212.34 335.32 L210.72 336.12 L209.15 336.34 L207.7 335.92 L206.28 335.33 L204.83 335.38 L203.47 335.08 L202.2 334.41 L200.88 333.95 L200.45 332.36 L202.82 331.82 L204.28 331.43 L205.61 332.57 L207.07 332.18 L208.49 332.52 L209.87 333.03 L211.23 333.6 L212.68 333.84 Z" fill="#e5e5e7" stroke="#222" stroke-width="0.8" stroke-linejoin="round"/>
<path d="M225.93 336.62 L224.39 337.78 L222.59 338.24 L220.23 338.14 L219.6 336.62 L220.8 335.47 L222.59 334.26 L224.89 335.13 Z" fill="#e5e5e7" stroke="#222" stroke-width="0.8" stroke-linejoin="round"/>
<path d="M227.9 335.29 L225.75 335.53 L224.37 335.07 L222.97 334.87 L221.52 335.12 L220.17 334.97 L218.84 334.75 L217.55 334.37 L216.26 333.99 L215.96 333.14 L218 332.94 L219.97 332.51 L221.85 333.24 L223.19 333.48 L224.41 334.18 L225.78 334.31 Z" fill="#e5e5e7" stroke="#222" stroke-width="0.8" stroke-linejoin="round"/>
<path d="M157.84 347.56 L157.63 348.47 L155.63 348.93 L153.77 349 L153.24 348.29 L153.65 347.49 L155.33 347.07 L157 346.99 Z" fill="#e5e5e7" stroke="#222" stroke-width="0.8" stroke-linejoin="round"/>
<path d="M156.66 354.45 L155.05 354.3 L153.75 355.26 L152.2 355.31 L150.84 356.03 L149.13 355.7 L147.39 355.75 L145.79 355.09 L146.69 354.16 L148.04 354.15 L149.31 353.32 L150.71 353.76 L152.48 353.59 L154.26 353.82 Z" fill="#e5e5e7" stroke="#222" stroke-width="0.8" stroke-linejoin="round"/>
<path d="M188.6 358.14 L186.99 359.29 L185.63 359.6 L184.24 359.55 L182.01 358.68 L181.02 357.51 L182.17 356.51 L184.56 355.72 L185.71 356.43 L187.02 356.81 Z" fill="#e5e5e7" stroke="#222" stroke-width="0.8" stroke-linejoin="round"/>
<path d="M163.94 347.36 L162.1 348.47 L160.79 349.04 L159.41 348.82 L158.06 348.77 L156.59 348.53 L155.18 347.97 L153.66 348.08 L152.72 346.68 L153.85 345.42 L155.33 345.76 L156.8 345.46 L158.27 345.28 L159.64 344.98 L160.92 345.81 L162.25 346.09 L163.63 345.71 Z" fill="#e5e5e7" stroke="#222" stroke-width="0.8" stroke-linejoin="round"/>
<path d="M201.91 352.04 L200.76 353.38 L198.94 354.49 L196.42 354.37 L195.14 353.13 L196.27 351.66 L198.3 350.54 L200.4 351.12 Z" fill="#e5e5e7" stroke="#222" stroke-width="0.8" stroke-linejoin="round"/>
<path d="M166.91 345.79 L165.93 346.73 L164.7 347.3 L163.52 347.96 L162.07 348.5 L160.53 348.7 L158.75 348.63 L159.94 347.49 L161.41 346.82 L162.88 346.14 L164.46 345.27 L166.27 345.22 Z" fill="#e5e5e7" stroke="#222" stroke-width="0.8" stroke-linejoin="round"/>
<path d="M176.92 350.61 L175.16 350.49 L173.43 350.88 L172.05 350.37 L170.72 351 L169.37 351.09 L167.97 350.62 L166.55 350.26 L165 350.8 L163.61 350.23 L162.08 349.22 L164.1 348.6 L165.46 349.17 L166.84 348.82 L168.22 348.34 L169.59 348.74 L171.08 348.57 L172.43 349.07 L173.75 349.69 L175.31 350.24 Z" fill="#e5e5e7" stroke="#222" stroke-width="0.8" stroke-linejoin="round"/>
<path d="M182.67 353.07 L181.11 354.37 L179.82 354.04 L178.48 354.4 L177.22 353.59 L175.88 354.02 L174.27 353.74 L172.73 353.18 L171.18 352.7 L170.64 351.18 L172.8 350.46 L174.62 350.03 L176.43 350.51 L177.67 351.39 L179.28 350.74 L180.55 351.49 L181.32 352.67 Z" fill="#e5e5e7" stroke="#222" stroke-width="0.8" stroke-linejoin="round"/>
<path d="M206.97 363.06 L205.07 364.15 L203.29 364.11 L201.52 364.17 L200.19 364.05 L198.86 364.01 L197.52 364.04 L196.02 362.69 L198.05 361.61 L199.81 361.14 L201.62 361.23 L203.44 361.99 L205.4 361.78 Z" fill="#e5e5e7" stroke="#222" stroke-width="0.8" stroke-linejoin="round"/>
<path d="M204.1 360.27 L202.53 361.16 L200.44 362.02 L198.86 361.6 L197.42 362.35 L196.74 361.66 L197.77 360.82 L200.07 360.08 L201.47 360.31 L202.79 359.78 Z" fill="#e5e5e7" stroke="#222" stroke-width="0.8" stroke-linejoin="round"/>
<path d="M228.78 357.48 L228.36 358.36 L226.97 358.64 L225.78 359.6 L224.3 359.57 L222.93 359.46 L221.78 360.37 L220.44 360.4 L219.91 359.83 L220.91 358.99 L222.55 358.89 L223.86 357.89 L225.13 357.28 L226.55 357.36 L227.87 356.97 Z" fill="#e5e5e7" stroke="#222" stroke-width="0.8" stroke-linejoin="round"/>
<path d="M225.23 359.6 L223.82 360.58 L221.65 361.58 L219.28 360.91 L217.03 360.13 L218.32 358.8 L219.9 359.12 L221.46 358.65 L222.76 358.26 L224.07 358.63 Z" fill="#e5e5e7" stroke="#222" stroke-width="0.8" stroke-linejoin="round"/>
<path d="M231.1 364.22 L229.91 364.81 L228.77 365.5 L227.65 366.52 L226.15 366.59 L224.79 367.2 L223.39 366.68 L221.43 366.39 L221.95 365.25 L223.72 364.46 L225.66 364.42 L227.55 364.62 L229.2 363.67 Z" fill="#e5e5e7" stroke="#222" stroke-width="0.8" stroke-linejoin="round"/>
<path d="M220.87 364.98 L218.34 365.12 L216.79 364.41 L215.12 364.73 L213.85 364.25 L212.45 364.36 L211.19 363.84 L209.81 362.74 L211.81 362.39 L213.62 362.85 L215.49 362.9 L217.25 363.66 L219.15 363.86 Z" fill="#e5e5e7" stroke="#222" stroke-width="0.8" stroke-linejoin="round"/>
<path d="M210.72 363.29 L210.47 364.75 L208.43 364.88 L206.56 364.1 L206.6 362.61 L207.37 361.53 L209.02 361.29 L211.01 361.79 Z" fill="#e5e5e7" stroke="#222" stroke-width="0.8" stroke-linejoin="round"/>
<path d="M221.52 352.7 L221.71 353.65 L220.09 354.4 L218.37 354.89 L216.58 355.32 L214.84 355.96 L214.29 355.09 L215.13 354.01 L216.56 353.69 L217.65 352.71 L218.93 351.94 L220.37 352.3 Z" fill="#e5e5e7" stroke="#222" stroke-width="0.8" stroke-linejoin="round"/>
<path d="M218.41 365.45 L217.47 366.49 L216.15 366.92 L214.77 367 L213.4 367.42 L212.01 367.16 L210.63 367.06 L208.95 366.76 L207.2 367.02 L205.57 366.42 L205.37 364.97 L205.65 363.54 L207.35 363.5 L209.04 363.13 L210.76 363.35 L212.46 363.61 L214.2 363.52 L215.89 363.9 L217.06 364.82 Z" fill="#e5e5e7" stroke="#222" stroke-width="0.8" stroke-linejoin="round"/>
<path d="M222.4 351.75 L221.93 353.25 L220.4 354.2 L218.37 354.48 L216.9 353.28 L217.97 351.66 L219.34 350.38 L221.19 350.74 Z" fill="#e5e5e7" stroke="#222" stroke-width="0.8" stroke-linejoin="round"/>
<path d="M220.57 353.68 L219.3 354.73 L217.15 355.4 L215.98 356.21 L214.58 355.92 L213.21 355.34 L214.65 354.26 L216.75 353.62 L218.71 353.43 Z" fill="#e5e5e7" stroke="#222" stroke-width="0.8" stroke-linejoin="round"/>
<path d="M203.92 352.95 L203.53 353.99 L201.33 354.75 L199.36 354.63 L198.43 354.01 L198.96 353.07 L200.88 352.43 L202.76 352.4 Z" fill="#e5e5e7" stroke="#222" stroke-width="0.8" stroke-linejoin="round"/>
<path d="M207.46 351.97 L205.82 352.86 L204.39 352.73 L203.01 353.44 L201.54 352.54 L200.15 353.16 L198.66 353.02 L197.17 353.16 L195.69 353.1 L193.88 352.53 L195.36 351.79 L196.92 351.51 L198.52 351.6 L200.07 351.29 L201.54 351.49 L203.01 351.54 L204.48 351.51 L205.94 351.18 Z" fill="#e5e5e7" stroke="#222" stroke-width="0.8" stroke-linejoin="round"/>
<path d="M229.74 363.83 L228.53 364.35 L226.78 364.51 L225.43 363.97 L224.5 363.39 L224.86 362.67 L226.94 362.57 L228.92 363.03 Z" fill="#e5e5e7" stroke="#222" stroke-width="0.8" stroke-linejoin="round"/>
<path d="M234.17 351.63 L233.51 352.52 L231.09 352.86 L228.91 352.57 L227.84 351.82 L229.03 351.06 L231.02 350.65 L232.69 351.08 Z" fill="#e5e5e7" stroke="#222" stroke-width="0.8" stroke-linejoin="round"/>
<path d="M230.21 350.49 L228.98 351.76 L227.62 352.23 L226.06 352.12 L224.88 353.14 L223.13 352.86 L221.4 352.96 L219.71 353.51 L219.03 352.34 L220.59 351.11 L221.8 350.56 L223.05 350.14 L224.33 349.77 L225.98 349.73 L227.66 350.02 L229.27 349.42 Z" fill="#e5e5e7" stroke="#222" stroke-width="0.8" stroke-linejoin="round"/>
<path d="M188.66 358.17 L188.06 359.01 L186.61 359.28 L185.17 359.59 L183.73 359.92 L182.32 360.17 L180.83 359.77 L179.46 360.42 L178.48 359.86 L180.25 359.01 L181.8 358.42 L183.46 358.25 L184.83 357.49 L186.41 358.06 L187.82 357.56 Z" fill="#e5e5e7" stroke="#222" stroke-width="0.8" stroke-linejoin="round"/>
<path d="M197.05 359.92 L196.17 360.8 L194.56 361.34 L192.52 360.86 L192.47 359.63 L193.31 358.84 L194.75 358.4 L196.42 358.87 Z" fill="#e5e5e7" stroke="#222" stroke-width="0.8" stroke-linejoin="round"/>
<path d="M199.28 358.56 L199.16 360.07 L197.83 359.67 L196.54 359.96 L195.25 360.21 L193.96 360.41 L192.31 360.1 L190.66 360.64 L189.01 360.4 L188.43 359 L190 357.84 L191.3 357.61 L192.41 356.66 L193.81 356.82 L195.22 356.6 L196.49 357.2 L197.82 357.48 Z" fill="#e5e5e7" stroke="#222" stroke-width="0.8" stroke-linejoin="round"/>
<path d="M206.79 361.13 L206.14 362.15 L204.77 362.28 L203.41 362.42 L201.19 362.43 L200.46 361.73 L200.47 360.77 L201.84 360.51 L203.23 360.51 L205.12 360.64 Z" fill="#e5e5e7" stroke="#222" stroke-width="0.8" stroke-linejoin="round"/>
<path d="M180.1 361.33 L179.03 362.49 L177.47 362.7 L176.1 362.38 L174.7 362.49 L173.29 362.74 L171.93 362.34 L170.54 362.23 L169.23 361.79 L167.93 361.33 L166.59 361.1 L165.3 360.76 L164.28 359.77 L165.89 359.59 L167.1 358.52 L168.77 359.23 L170.52 359.03 L172.26 358.98 L173.87 359.62 L175.59 359.28 L177.25 359.57 L178.48 360.76 Z" fill="#e5e5e7" stroke="#222" stroke-width="0.8" stroke-linejoin="round"/>
<path d="M186.62 359.14 L185.95 360.14 L185 361.13 L183.68 361.56 L181.26 361.76 L178.81 361.97 L180.72 360.58 L182.91 359.42 L184.52 359.24 L185.94 358.48 Z" fill="#e5e5e7" stroke="#222" stroke-width="0.8" stroke-linejoin="round"/>
<path d="M201.82 360.52 L200.47 361.58 L198.93 362.24 L196.78 362.33 L196.69 361.15 L196.89 360.13 L198.57 359.28 L200.67 359.52 Z" fill="#e5e5e7" stroke="#222" stroke-width="0.8" stroke-linejoin="round"/>
<path d="M236.12 329.96 L235.7 331.72 L233.57 332.35 L231.79 332.1 L230.09 331.13 L230.99 329.45 L232.88 328.76 L234.95 328.62 Z" fill="#e5e5e7" stroke="#222" stroke-width="0.8" stroke-linejoin="round"/>
<path d="M243.97 334.66 L243.14 336.02 L241.2 335.53 L239.79 334.92 L239.18 333.64 L239.84 332.24 L241.94 332.05 L243.32 333.29 Z" fill="#e5e5e7" stroke="#222" stroke-width="0.8" stroke-linejoin="round"/>
<path d="M244.7 335.2 L243.47 337.1 L241.73 337.81 L240.07 338.66 L238.15 338.27 L236.29 338.86 L234.74 337.61 L236.21 335.9 L237.46 334.83 L239.1 334.65 L240.71 334.88 L242.27 334.41 Z" fill="#e5e5e7" stroke="#222" stroke-width="0.8" stroke-linejoin="round"/>
<path d="M258.12 330.65 L257.51 331.81 L255.83 332.97 L253.57 332.76 L251.56 331.97 L252.51 330.28 L253.58 329.27 L255.04 329.08 L257.31 329.66 Z" fill="#e5e5e7" stroke="#222" stroke-width="0.8" stroke-linejoin="round"/>
<path d="M238.72 331.13 L237.84 332.38 L236.24 332.78 L234.66 333.26 L232.88 332.61 L231.03 333.03 L229.3 331.84 L230.58 330.34 L232.37 329.38 L234.38 329.6 L235.88 329.6 L237.25 330.21 Z" fill="#e5e5e7" stroke="#222" stroke-width="0.8" stroke-linejoin="round"/>
<path d="M261.63 334.86 L260.33 335.56 L258.72 335.81 L257.11 335.58 L255.56 335.44 L254.1 334.89 L252.54 334.84 L251.37 333.81 L253.64 333.07 L255.48 333.61 L257.35 333.19 L258.96 333.9 L260.73 333.87 Z" fill="#e5e5e7" stroke="#222" stroke-width="0.8" stroke-linejoin="round"/>
<path d="M265.96 337.82 L263.76 338.8 L261.68 339.44 L260.28 339.32 L258.92 338.96 L257.81 337.41 L258.97 335.93 L260.42 335.85 L261.85 336.12 L264.07 336.53 Z" fill="#e5e5e7" stroke="#222" stroke-width="0.8" stroke-linejoin="round"/>
<path d="M242.04 334.28 L240.87 335.34 L239.48 334.99 L237.96 335.38 L236.55 335.15 L235.24 334.35 L233.99 333.4 L232.35 333.57 L231.02 332.85 L229.48 332 L227.95 331.14 L230.13 330.27 L231.45 331.1 L232.87 331.48 L234.44 331.21 L235.86 331.56 L237.61 331.64 L239.25 332.17 L240.85 332.83 Z" fill="#e5e5e7" stroke="#222" stroke-width="0.8" stroke-linejoin="round"/>
<path d="M286.89 349.62 L286.41 350.5 L284.8 350.53 L283.52 351.51 L280.93 351.63 L280.08 351.17 L280.49 350.39 L281.94 350.32 L283.03 349.36 L285.6 349.26 Z" fill="#e5e5e7" stroke="#222" stroke-width="0.8" stroke-linejoin="round"/>
<path d="M274.61 348.52 L274.01 349.8 L272.9 350.72 L271.31 350.62 L270.21 351.57 L268.75 352.08 L267.21 352.28 L265.7 352.58 L264.89 351.64 L265.9 350.34 L267.37 349.08 L269.23 348.51 L270.7 348.73 L272.11 348.63 L273.4 347.81 Z" fill="#e5e5e7" stroke="#222" stroke-width="0.8" stroke-linejoin="round"/>
<path d="M274.95 352.67 L273.18 353.52 L271.65 354.08 L270.02 353.76 L268.47 354.12 L266.97 354.4 L265.55 353.49 L264.01 354.4 L262.57 353.77 L261.96 352.71 L264.2 351.94 L265.56 351.27 L267.08 351.8 L268.46 351.33 L269.92 351.3 L271.25 352.19 L272.73 351.91 Z" fill="#e5e5e7" stroke="#222" stroke-width="0.8" stroke-linejoin="round"/>
<path d="M261.33 367.03 L259.43 368.53 L257.83 368.4 L256.42 369.14 L253.91 368.84 L251.8 367.99 L252.85 366.48 L254.53 366.16 L256.04 365.36 L257.5 365.36 L258.7 366.2 L259.94 366.84 Z" fill="#e5e5e7" stroke="#222" stroke-width="0.8" stroke-linejoin="round"/>
<path d="M288.12 353.43 L287.44 354.42 L286.05 354.14 L284.84 354.95 L283.53 355.12 L281.93 355.85 L280.2 355.58 L278.08 355.21 L279.25 354.12 L280.51 353.54 L281.85 353.4 L283.22 353.38 L284.66 353.53 L286.07 353.17 Z" fill="#e5e5e7" stroke="#222" stroke-width="0.8" stroke-linejoin="round"/>
<path d="M301.84 370.34 L301.1 370.96 L299.14 371.01 L297.29 370.33 L295.37 370.19 L293.67 369.3 L293.59 368.53 L294.04 367.88 L295.92 367.93 L297.67 368.59 L299.14 369.22 L300.72 369.46 Z" fill="#e5e5e7" stroke="#222" stroke-width="0.8" stroke-linejoin="round"/>
<path d="M296.49 365.39 L295.49 366.25 L293.34 366.67 L291.28 366.65 L289.71 366.1 L290.48 365.09 L291.85 365.3 L293.14 364.83 L295.5 364.67 Z" fill="#e5e5e7" stroke="#222" stroke-width="0.8" stroke-linejoin="round"/>
<path d="M295.82 346.06 L294.05 346.78 L292.47 346.96 L290.89 346.65 L289.31 346.87 L287.9 346.31 L286.43 346.56 L284.97 346.56 L282.75 345.84 L284.99 345.19 L286.42 344.77 L287.88 344.75 L289.35 344.89 L290.76 345.55 L292.25 345.39 L293.73 345.34 Z" fill="#e5e5e7" stroke="#222" stroke-width="0.8" stroke-linejoin="round"/>
<path d="M280 335 L280.91 334.05 L282.35 334.14 L282.97 332.6 L284.88 333.64 L285.5 332.12 L286.69 331.72 L287.81 331.17 L288.48 329.74 L290 330 L291.28 329.99 L292.43 329.16 L293.67 328.88 L295.1 329.76 L296.11 328.14 L297.43 328.33 L298.83 329.05 L299.92 327.83 L301.18 327.69 L302.52 328.01 L303.65 327.09 L305 327.5 L306.31 328.2 L307.57 328.29 L308.68 326.29 L309.99 327.05 L311.29 327.53 L312.48 326.71 L313.81 327.7 L315 326.75 L316.2 326.02 L317.51 326.67 L318.77 326.76 L319.98 326.1 L321.27 326.6 L322.54 326.75 L323.75 326.13 L325 326 L326.25 325.98 L327.52 326.63 L328.76 326.27 L330 325.92 L331.27 326.75 L332.48 325.16 L333.76 326.34 L334.98 325.08 L336.26 325.93 L337.49 325.16 L338.75 325.54 L340.01 326.17 L341.26 326.17 L342.51 326.14 L343.74 325 L345 325.5 L346.21 325.51 L347.44 325.01 L348.64 325.77 L349.86 325.64 L351.1 324.75 L352.28 325.91 L353.49 326.18 L354.71 325.93 L355.91 326.57 L357.16 325.22 L358.38 325.2 L359.6 324.96 L360.79 325.96 L362 326 L363.2 326.45 L364.34 327.04 L365.64 327.29 L366.3 328.82 L368.1 328.09 L368.49 330.16 L370 330 L369.7 331.23 L369.58 332.49 L368.92 333.67 L369.85 335.07 L369.87 336.34 L369.37 337.55 L369.74 338.87 L369.03 340.05 L368.26 341.22 L368.28 342.49 L368.63 343.81 L368 345 L367.37 346.09 L367.84 347.61 L366.02 348.22 L366.76 349.86 L366.15 350.95 L365.86 352.18 L364.42 352.94 L363.69 353.98 L363.31 355.17 L364.2 356.86 L363.09 357.76 L362.71 358.95 L362 360 L361.76 361.33 L359.83 361.46 L360.65 363.53 L359.22 364.01 L358.07 364.7 L357 365.44 L357.68 367.41 L356.47 368.05 L355.3 368.72 L355 370 L355.05 371.53 L354.02 372.3 L352.26 372.55 L352.79 374.41 L351.68 375.12 L351.13 376.23 L350.22 377.09 L350.09 378.49 L349.46 379.53 L348 380 L346.38 379.58 L345.3 380.51 L344.08 381.07 L343 382 L341.62 381.38 L340.65 380.35 L340.07 378.93 L338.63 378.37 L338 377 L337.22 376.04 L337.28 374.5 L335.64 374.16 L334.88 373.19 L335.21 371.44 L333.89 370.87 L333 370 L331.51 369.35 L331.41 367.82 L331.11 366.41 L329.39 365.9 L329.16 364.45 L329.04 362.94 L328 362 L327.94 360.6 L326.82 359.9 L326.64 358.57 L325.27 358.04 L324.49 357.12 L324 356 L323.66 354.55 L322.11 354.15 L321.86 352.63 L320.14 352.37 L319.48 351.2 L318.38 350.41 L318 349 L316.94 348.25 L315.43 348.24 L314.36 347.51 L313.26 346.82 L312.41 345.72 L311.14 345.33 L310.17 344.42 L309.62 342.82 L308 343 L306.9 342.38 L305.8 341.75 L304.32 342.76 L303.22 342.14 L301.9 342.47 L301 340.99 L299.67 341.36 L298.44 341.26 L297.15 341.48 L296.04 340.89 L295 340 L293.76 340.37 L292.58 340.01 L291.47 338.86 L290.24 339.17 L288.96 339.96 L287.78 339.68 L286.54 339.99 L285.47 338.33 L284.18 339.38 L283 339 L282.68 337.68 L281.86 336.73 L281.4 335.51 Z" fill="#e5e5e7" stroke="#222" stroke-width="0.9" stroke-linejoin="round"/>
<path d="M257.5 470 L263 469 L270 471 L277 474 L280 476.5 L274 476 L266 474 L259 472.5 Z" fill="#e5e5e7" stroke="#4a4a4a" stroke-width="0.55" stroke-linejoin="round"/>
<path d="M281 478.5 L287 478 L290 480 L285 481.5 L281 480.5 Z" fill="#e5e5e7" stroke="#4a4a4a" stroke-width="0.55" stroke-linejoin="round"/>
<path d="M268 480 L272 479.5 L273 481 L269 481.3 Z" fill="#e5e5e7" stroke="#4a4a4a" stroke-width="0.55" stroke-linejoin="round"/>
<path d="M292 480.5 L295 480.5 L295 481.8 L292 481.8 Z" fill="#e5e5e7" stroke="#4a4a4a" stroke-width="0.55" stroke-linejoin="round"/>
<path d="M156.4 408 L225 408 L229.8 409.6 L233 411.5 L238 410.8 L244 411.2 L249 412.8 L255.3 417.6 L260.1 420.7 L266.5 420 L272.9 417.6 L277.7 415.2 L282.4 413.6 L287.2 412.8 L289.6 416 L288.8 418.4 L284 420.7 L280.8 424 L277.7 427.1 L272.9 430.3 L269.7 433.5 L268.9 438.3 L264.9 443.1 L260.1 447.9 L256.9 451.1 L255.3 454.3 L256.1 459 L258.5 463.8 L256.9 465.4 L253.7 460.6 L250.5 455.8 L245.7 455 L239.4 454.3 L233 454.3 L226.6 455.8 L221.8 459 L218.6 463 L215.4 459 L210.6 454.3 L205.8 451.1 L197.9 449.5 L189.9 448.7 L181.9 447.9 L173.9 447.1 L169.1 444.7 L164.4 439.9 L159.6 433.5 L156.4 427.1 L155.6 419.1 L156.4 412.8 Z" fill="#f3ae95" stroke="#f3ae95" stroke-width="0.5" stroke-linejoin="round"/>
<path d="M232.5 410.5 L238 409.3 L244 409.8 L249.5 411.2 L247 413.2 L242 412.6 L237 412.3 Z" fill="url(#bg)"/>
<path d="M232.5 410.5 L238 409.3 L244 409.8 L249.5 411.2 L247 413.2 L242 412.6 L237 412.3 Z" fill="url(#hl)" stroke="#4a4a4a" stroke-width="0.35" stroke-linejoin="round"/>
<path d="M241.5 413.8 L244.5 414 L245.5 419 L244.8 424.5 L243.5 426.5 L242 422 L241.2 417 Z" fill="url(#bg)"/>
<path d="M241.5 413.8 L244.5 414 L245.5 419 L244.8 424.5 L243.5 426.5 L242 422 L241.2 417 Z" fill="url(#hl)" stroke="#4a4a4a" stroke-width="0.35" stroke-linejoin="round"/>
<path d="M248.5 413.2 L252 413.8 L254.5 416.5 L255.5 420.5 L253 421.5 L250.5 419 L249 416 Z" fill="url(#bg)"/>
<path d="M248.5 413.2 L252 413.8 L254.5 416.5 L255.5 420.5 L253 421.5 L250.5 419 L249 416 Z" fill="url(#hl)" stroke="#4a4a4a" stroke-width="0.35" stroke-linejoin="round"/>
<path d="M253.5 423.8 L257 422 L261 420.6 L263.5 421 L260.5 423.2 L256 424.8 Z" fill="url(#bg)"/>
<path d="M253.5 423.8 L257 422 L261 420.6 L263.5 421 L260.5 423.2 L256 424.8 Z" fill="url(#hl)" stroke="#4a4a4a" stroke-width="0.35" stroke-linejoin="round"/>
<path d="M262.5 418.5 L266 417.6 L269 418 L266.5 419.5 L263 419.8 Z" fill="url(#bg)"/>
<path d="M262.5 418.5 L266 417.6 L269 418 L266.5 419.5 L263 419.8 Z" fill="url(#hl)" stroke="#4a4a4a" stroke-width="0.35" stroke-linejoin="round"/>
<path d="M115.4 358.7 L106.4 357.3 L95.3 356.6 L85.6 355.9 L77.3 354.5 L70.4 356.6 L64.9 358 L58 360.7 L55.2 362.1 L58 364.2 L66.3 365.6 L69 366.3 L60.7 367 L53.8 367.7 L53.8 369.7 L60.7 371.1 L67.7 372.5 L62.1 373.9 L56.6 376.7 L58 378.7 L64.9 379.4 L67.7 381.5 L64.9 384.3 L62.1 387 L59.4 389.8 L55.2 393.3 L53.8 396 L59.4 395.3 L67.7 392.6 L76 389.1 L82.9 385.6 L89.8 382.2 L95.3 380.8 L100.9 380.1 L106.4 380.1 L115.4 380.8 L120.2 382.2 L125.8 383.6 L129.9 385.6 L134.1 388.4 L138.2 391.9 L141 394.6 L139.6 395.3 L135.4 392.6 L131.3 389.8 L127.1 387 L123 385 L117.5 382.9 L115.4 382.2 Z" fill="#f3ae95" stroke="#f3ae95" stroke-width="0.5" stroke-linejoin="round"/>
<path d="M48 397 L50 396.5 L50.5 397.8 L48.5 398.2 Z" fill="#f3ae95" stroke="#f3ae95" stroke-width="0.4" stroke-linejoin="round"/>
<path d="M44 399 L45.5 398.8 L45.8 400 L44.2 400.2 Z" fill="#f3ae95" stroke="#f3ae95" stroke-width="0.4" stroke-linejoin="round"/>
<path d="M51.5 393 L53 392.6 L53.2 394 L51.6 394.2 Z" fill="#f3ae95" stroke="#f3ae95" stroke-width="0.4" stroke-linejoin="round"/>
<path d="M143.7 399.5 L150.6 403 L157.6 407.8 L156.2 409.2 L149.3 405 L143 400.9 Z" fill="#e5e5e7" stroke="#4a4a4a" stroke-width="0.6" stroke-linejoin="round"/>
<path d="M134.1 395.3 L136.8 398.1 L135.4 398.8 L133.4 396.7 Z" fill="#e5e5e7" stroke="#4a4a4a" stroke-width="0.6" stroke-linejoin="round"/>
<path d="M76.5 476.8 L78 476.6 L78.2 477.8 L76.7 478 Z" fill="#f3ae95" stroke="#f3ae95" stroke-width="0.4" stroke-linejoin="round"/>
<path d="M79.5 478.3 L81 478.4 L80.8 479.6 L79.4 479.5 Z" fill="#f3ae95" stroke="#f3ae95" stroke-width="0.4" stroke-linejoin="round"/>
<path d="M82 480 L83.8 480.3 L83.4 481.8 L81.9 481.4 Z" fill="#f3ae95" stroke="#f3ae95" stroke-width="0.4" stroke-linejoin="round"/>
<path d="M896 372.5 L899 372.8 L898.6 374 L896 373.8 Z" fill="#f3ae95" stroke="#f3ae95" stroke-width="0.4" stroke-linejoin="round"/>
<path d="M268 509 L270 502.5 L277.5 497.5 L285 496.25 L292.5 500 L302.5 502.5 L310 506.25 L317.5 510 L325 513.75 L330 518.75 L333.75 523.75 L340 527.5 L347.5 531.25 L356.25 535 L363.75 538.75 L366.25 543.75 L363.75 550 L360 556.25 L357.5 565 L355 575 L350 580 L342.5 585 L336.25 590 L330 596.25 L325 601.25 L321.25 605 L320 610 L315 610 L312.5 615 L310 620 L305 625 L300 630 L295 637.5 L291.25 645 L289 652 L292 657 L296 659 L290 660 L284 657 L280 652 L276 648 L271.25 645 L273.75 637.5 L277.5 630 L279 620 L281 605 L283 590 L284 578 L282 570 L280 565 L275 560 L270 552.5 L265 545 L260 537.5 L257.5 530 L261.25 522.5 L265 515 L262.5 507 Z" fill="#e5e5e7" stroke="#4a4a4a" stroke-width="0.55" stroke-linejoin="round"/>
<path d="M283.75 522.5 L292.5 520 L300 517.5 L306.25 515 L312.5 517.5 L320 521.25 L326.25 517.5 L330 520 L332.5 527.5 L340 530 L350 532.5 L357.5 535 L365 540 L366.25 543.75 L362.5 550 L358.75 557.5 L357.5 565 L355 575 L350 580 L342.5 583.75 L337.5 588.75 L333.75 595 L330 600 L325 602.5 L320 601.25 L316.25 597.5 L317.5 592.5 L320 588.75 L320 585 L316.25 580 L312.5 577.5 L311.25 570 L308.75 563.75 L305 558.75 L297.5 555 L292.5 551.25 L286.25 550 L280 548.75 L276.25 545 L275.5 540 L280 536.25 L283.75 532.5 L285 527.5 Z" fill="#d2836b" stroke="#d2836b" stroke-width="0.5" stroke-linejoin="round"/>
<path d="M327.5 524.5 L331 523.6 L332.3 526 L329 526.5 Z" fill="url(#bg)"/>
<path d="M327.5 524.5 L331 523.6 L332.3 526 L329 526.5 Z" fill="url(#hl)" stroke="#4a4a4a" stroke-width="0.35" stroke-linejoin="round"/>
<path d="M262.5 507 L266 512 L270 518 L276 521 L283.75 522.5" fill="none" stroke="#4a4a4a" stroke-width="0.45" stroke-linejoin="round"/>
<path d="M283.75 522.5 L285 514 L287 505 L292 501" fill="none" stroke="#4a4a4a" stroke-width="0.45" stroke-linejoin="round"/>
<path d="M300 517.5 L302 510 L303 503" fill="none" stroke="#4a4a4a" stroke-width="0.45" stroke-linejoin="round"/>
<path d="M312.5 517.5 L313 509" fill="none" stroke="#4a4a4a" stroke-width="0.45" stroke-linejoin="round"/>
<path d="M320 521.25 L321 512.5" fill="none" stroke="#4a4a4a" stroke-width="0.45" stroke-linejoin="round"/>
<path d="M261.25 522.5 L268 526 L275.5 540" fill="none" stroke="#4a4a4a" stroke-width="0.45" stroke-linejoin="round"/>
<path d="M257.5 530 L264 534 L270 540 L275.5 540" fill="none" stroke="#4a4a4a" stroke-width="0.45" stroke-linejoin="round"/>
<path d="M280 548.75 L283 556 L286 562 L292 566 L298 570 L305 572 L311.25 570" fill="none" stroke="#4a4a4a" stroke-width="0.45" stroke-linejoin="round"/>
<path d="M305 572 L306 580 L312 585 L316.25 580" fill="none" stroke="#4a4a4a" stroke-width="0.45" stroke-linejoin="round"/>
<path d="M298 570 L296 580 L300 590 L306 595 L312 597 L316.25 597.5" fill="none" stroke="#4a4a4a" stroke-width="0.45" stroke-linejoin="round"/>
<path d="M300 590 L292 592 L284 590" fill="none" stroke="#4a4a4a" stroke-width="0.45" stroke-linejoin="round"/>
<path d="M312 597 L316 604 L320 610" fill="none" stroke="#4a4a4a" stroke-width="0.45" stroke-linejoin="round"/>
<path d="M296 580 L290 578 L284 578" fill="none" stroke="#4a4a4a" stroke-width="0.45" stroke-linejoin="round"/>
<path d="M431 437 L428.9 421.7 L435.3 421.1 L441.7 422.3 L446.2 420.4 L446.8 417.2 L446.2 414 L443 412.1 L439.1 410.2 L442.3 408.9 L446.2 408.3 L447.4 406.4 L451.3 405.1 L453.8 403.8 L458.3 404.5 L462 404 L464.5 401 L465.3 398.7 L467.2 397 L467.2 390.4 L470.4 389.1 L472.3 391.7 L471.1 394.9 L472.3 395.5 L476.2 396.2 L480.6 395.5 L485 395 L489 394 L500 392 L505 375 L520 360 L545 365 L560 380 L600 385 L640 385 L658 395 L660 410 L650 420 L640 432 L633 445 L628 452 L622 460 L616 466 L613 469 L608 468 L600 466 L592 466 L592 478 L575 500 L553 498 L548 490 L543 478 L538 465 L535 457 L532 452 L531.2 447 L532.5 443 L533.5 440 L536 438.5 L534 436.5 L525.5 437.3 L517 437.3 L514.5 436 L512.5 432 L510 433.5 L507.5 437 L505.5 441.5 L502.5 440 L500.5 435.5 L498 431.5 L495 428 L491 424 L487.5 420 L484.5 416.5 L481 414 L474.9 413.4 L470 414 L466.5 414.8 L466 416.6 L467.2 419.8 L465.3 421.7 L460.9 423 L457 423 L453.2 423.6 L451.7 425.3 L449.2 431.7 L447.9 435.5 L446.6 438.1 L443 439.5 L438 440 Z" fill="#e5e5e7" stroke="#4a4a4a" stroke-width="0.55" stroke-linejoin="round"/>
<path d="M463.2 383.2 L462.06 381.91 L461.96 380.28 L461.7 378.7 L461.89 377.16 L462.4 375.7 L463.15 374.18 L464.7 373.5 L466.44 373.23 L467.7 372 L468.52 371.07 L469.86 370.84 L470.6 369.8 L471.62 369.09 L472.23 367.83 L473.6 367.6 L474.51 366.72 L475.38 365.78 L476.6 365.3 L477.22 364.05 L478.31 363.44 L479.6 363.1 L480.76 362.67 L481.51 361.41 L482.78 361.21 L484 360.9 L485.08 360.23 L486.28 359.8 L487.14 358.72 L488.5 358.6 L490.06 358.55 L491.43 357.61 L493 357.6 L494.22 357.38 L495.28 356.79 L496.06 355.63 L497.19 355.19 L498.32 354.78 L499.67 354.82 L500.58 353.92 L501.66 353.38 L503.03 353.48 L503.75 352.16 L505 352 L506.25 351.71 L507.5 351.78 L508.75 351.6 L510 351.36 L511.25 351.33 L512.5 352.18 L513.75 352.09 L515 352.43 L516.25 352.67 L517.5 351.72 L518.75 352.24 L520 352 L519.41 353.2 L520.4 354.4 L519.74 355.6 L519.77 356.8 L519.36 358 L519.48 359.2 L520.37 360.4 L519.81 361.6 L520.57 362.8 L520.1 364 L520.15 365.2 L520.62 366.4 L520.16 367.6 L520.24 368.8 L520 370 L518.93 370.57 L518 371.41 L517.01 372.14 L515.78 372.41 L514.66 372.89 L513.79 373.84 L512.39 373.8 L511.6 374.89 L510.63 375.65 L509.39 375.91 L508.27 376.38 L507.37 377.29 L506.02 377.33 L505 378 L504.03 377.09 L502.82 376.6 L501.81 375.76 L500.21 375.91 L499.37 374.8 L498.24 374.16 L496.91 373.86 L496.04 372.78 L495 372 L493.54 371.32 L493 369.8 L491.5 370.56 L490 371.3 L488.91 372.21 L488.03 373.33 L487 374.3 L486.73 375.85 L486.33 377.34 L485.5 378.7 L485.63 380.41 L484.7 381.77 L484 383.2 L483.01 384.54 L482.98 386.17 L482.6 387.7 L482.09 389.27 L481 390.5 L479.51 390.52 L478.1 391 L476.58 390.63 L475.5 389.5 L474.8 388.52 L474.3 387.41 L473.5 386.5 L471.4 385.5 L469.2 385 L467.56 384.46 L466 385.2 L464.49 384.36 Z" fill="#e5e5e7" stroke="#2a2a2a" stroke-width="0.7" stroke-linejoin="round"/>
<path d="M469.2 385 L471 379 L474 373 L478 368 L482 364.5" fill="none" stroke="#4a4a4a" stroke-width="0.45" stroke-linejoin="round"/>
<path d="M485.5 378.7 L489 377 L492 373" fill="none" stroke="#4a4a4a" stroke-width="0.45" stroke-linejoin="round"/>
<path d="M467 416.5 L472 415.3 L477 415.5 L483.6 416.5 L484.5 418.5 L487.4 421.5 L490 424 L492.6 426.6 L494.5 428.5 L495 430 L493 430.4 L491.5 429.5 L490.5 431.5 L490.5 434.3 L489 435.7 L487.8 434.5 L488.3 431.8 L486.5 429.5 L484.9 427.9 L482 425 L479.5 421.5 L476.5 419.5 L472.5 418.5 L469 419.5 L467.5 419 Z" fill="#e5e5e7" stroke="#4a4a4a" stroke-width="0.55" stroke-linejoin="round"/>
<path d="M481.5 434 L487.5 433.6 L488.7 435.5 L484 437 Z" fill="#e5e5e7" stroke="#4a4a4a" stroke-width="0.55" stroke-linejoin="round"/>
<path d="M452 429 L455 428.6 L454.6 430.5 L452.3 430.6 Z" fill="#e5e5e7" stroke="#4a4a4a" stroke-width="0.55" stroke-linejoin="round"/>
<path d="M505 440.8 L511.5 440.4 L511 442 L505.5 442.2 Z" fill="#e5e5e7" stroke="#4a4a4a" stroke-width="0.55" stroke-linejoin="round"/>
<path d="M471.1 432.6 L473.6 432.6 L473.8 438 L471.5 438.5 Z" fill="#e5e5e7" stroke="#4a4a4a" stroke-width="0.55" stroke-linejoin="round"/>
<path d="M472 426 L473.5 425.5 L473.6 429.5 L472.2 429.8 Z" fill="#e5e5e7" stroke="#4a4a4a" stroke-width="0.55" stroke-linejoin="round"/>
<path d="M529 439.6 L532 439.2 L531.4 440.8 L528.8 440.8 Z" fill="#e5e5e7" stroke="#4a4a4a" stroke-width="0.55" stroke-linejoin="round"/>
<path d="M516.2 422 L519 419.5 L525.5 417.8 L531 417.2 L536.6 416.9 L542.6 419.5 L546.8 422 L547.7 425.4 L542.6 426.3 L534 425.9 L525.5 425.4 L517 426.3 Z" fill="url(#bg)"/>
<path d="M516.2 422 L519 419.5 L525.5 417.8 L531 417.2 L536.6 416.9 L542.6 419.5 L546.8 422 L547.7 425.4 L542.6 426.3 L534 425.9 L525.5 425.4 L517 426.3 Z" fill="url(#hl)" stroke="#4a4a4a" stroke-width="0.55" stroke-linejoin="round"/>
<path d="M562.1 413.5 L566 413 L572 414.2 L574.9 415.2 L574 420 L574 424.6 L576.6 433.1 L575.5 438.4 L572.8 440.2 L569.2 438.4 L568.1 437.3 L566.4 432.2 L564.7 426.3 L563 423 L561.3 417.8 Z" fill="url(#bg)"/>
<path d="M562.1 413.5 L566 413 L572 414.2 L574.9 415.2 L574 420 L574 424.6 L576.6 433.1 L575.5 438.4 L572.8 440.2 L569.2 438.4 L568.1 437.3 L566.4 432.2 L564.7 426.3 L563 423 L561.3 417.8 Z" fill="url(#hl)" stroke="#4a4a4a" stroke-width="0.55" stroke-linejoin="round"/>
<path d="M587 414 L591 413.5 L592.7 416.5 L589 418.5 Z" fill="url(#bg)"/>
<path d="M587 414 L591 413.5 L592.7 416.5 L589 418.5 Z" fill="url(#hl)" stroke="#4a4a4a" stroke-width="0.4" stroke-linejoin="round"/>
<path d="M575 447.5 L580 450 L585 455 L588 458 L584 459 L579 455 L574 451 Z" fill="url(#bg)"/>
<path d="M575 447.5 L580 450 L585 455 L588 458 L584 459 L579 455 L574 451 Z" fill="url(#hl)" stroke="#4a4a4a" stroke-width="0.55" stroke-linejoin="round"/>
<path d="M425 395 L430 393.75 L433.75 396.25 L432.5 401.25 L427.5 402.5 L425 399.5 Z" fill="#e5e5e7" stroke="#4a4a4a" stroke-width="0.55" stroke-linejoin="round"/>
<path d="M475 333 L476.24 332.6 L477.64 332.57 L478.75 331.85 L479.87 331.16 L481 330.5 L482.28 330.74 L483.58 330.52 L484.86 330.6 L486.16 330.47 L487.4 331.32 L488.68 331.46 L490 331 L491.25 331.24 L492.22 332.34 L493.8 331.59 L494.96 332.12 L496 333 L494.74 333.74 L493.64 334.73 L492.35 335.42 L491 336 L489.46 335.65 L488.3 337.08 L486.89 337.32 L485.48 337.57 L484 337.5 L482.84 337.05 L481.54 337.47 L480.29 337.59 L479.21 336.64 L478 336.5 L476.89 335.43 L475.72 334.4 Z" fill="#e5e5e7" stroke="#2a2a2a" stroke-width="0.75" stroke-linejoin="round"/>
<path d="M555 330 L556.22 329.88 L557.46 329.99 L558.67 329.73 L559.9 329.73 L561.12 329.53 L562.38 329.79 L563.61 329.88 L564.76 328.88 L566 329 L567.22 328.89 L568.36 329.74 L569.62 329.04 L570.77 329.7 L571.98 329.77 L573.18 329.86 L574.35 330.35 L575.56 330.25 L576.84 329.42 L578 330 L579.22 330.36 L580.5 330.36 L581.74 330.65 L583.03 330.57 L584.29 330.64 L585.45 331.47 L586.74 331.36 L588 331.5 L589.18 331.08 L590.39 331.05 L591.59 331.11 L592.78 330.85 L594 331.27 L595.18 330.68 L596.37 330.54 L597.57 330.5 L598.78 330.49 L600 331 L601.21 331.92 L602.91 331.85 L604 333 L602.76 333.25 L601.44 333 L600.25 333.59 L599.07 334.22 L597.67 333.43 L596.42 333.61 L595.34 334.93 L594 334.5 L592.71 334.8 L591.45 334.4 L590.2 333.95 L588.9 334.47 L587.65 333.97 L586.35 334.57 L585.1 333.88 L583.81 334.38 L582.54 334.32 L581.29 333.68 L580 334 L578.74 333.48 L577.47 333.45 L576.19 333.77 L574.91 333.93 L573.65 333.48 L572.37 333.56 L571.11 333.22 L569.83 333.21 L568.53 334.12 L567.27 333.72 L566 333.5 L564.77 333.14 L563.46 333.62 L562.21 333.56 L560.93 333.68 L559.76 332.76 L558.56 332.14 L557.32 331.97 L556 332.5 L555.02 331.44 Z" fill="#e5e5e7" stroke="#2a2a2a" stroke-width="0.75" stroke-linejoin="round"/>
<path d="M572 346 L573.26 345.66 L574.24 344.76 L575.51 344.45 L576.51 343.58 L577.99 343.69 L579.16 343.18 L580 342 L581.13 341.13 L582.56 341.79 L583.65 340.73 L584.87 340.37 L586.19 340.46 L587.56 340.82 L588.89 340.93 L590 340 L591.13 339.32 L592.37 339.46 L593.52 338.89 L594.81 339.46 L596 339.23 L597.18 338.92 L598.37 338.68 L599.65 339.22 L600.86 339.12 L602 338.5 L603.37 338.37 L604.69 338.68 L605.98 339.16 L607.29 339.54 L608.58 340 L610 339.5 L608.86 340.14 L607.5 340.25 L606.38 340.94 L605.04 341.11 L604 342 L602.87 342.79 L601.61 343.07 L600.38 343.47 L598.85 342.66 L597.83 343.9 L596.5 343.89 L595.38 344.7 L594 344.5 L592.96 345.17 L591.99 346 L590.59 345.73 L589.68 346.71 L588.31 346.52 L587.36 347.42 L586.26 347.92 L585 348 L583.84 348.52 L582.74 349.17 L581.63 349.81 L580.58 350.58 L579.41 351.06 L578 351 L576.86 350.21 L575.45 350.76 L574.13 350.83 L573 350 L572.24 348.77 L572.31 347.34 Z" fill="#e5e5e7" stroke="#2a2a2a" stroke-width="0.75" stroke-linejoin="round"/>
<path d="M612 333 L613.32 333.57 L614.46 332.34 L615.8 333.14 L617 332.48 L618.24 332.26 L619.54 332.68 L620.74 331.98 L622 332 L623.4 331.81 L624.38 332.87 L625.53 333.41 L626.75 333.76 L628 334 L626.72 334.56 L625.22 333.9 L623.91 334.25 L622.54 334.32 L621.35 335.33 L620 335.5 L618.81 334.64 L617.43 334.37 L615.86 334.68 L614.47 334.47 L613.2 333.86 Z" fill="#e5e5e7" stroke="#2a2a2a" stroke-width="0.75" stroke-linejoin="round"/>
<path d="M770 344 L771.2 343.15 L772.52 342.76 L773.95 342.81 L775.42 343.01 L776.6 342.08 L778 342 L779.33 342.27 L780.79 341.83 L782.07 342.35 L783.21 343.63 L784.79 342.58 L786 343.5 L784.79 343.96 L783.43 344.1 L782.24 344.62 L781.07 345.2 L780 346 L778.67 346.14 L777.33 345.58 L776 345.54 L774.67 345.63 L773.33 345.32 L772 346 L770.6 345.4 Z" fill="#e5e5e7" stroke="#2a2a2a" stroke-width="0.75" stroke-linejoin="round"/>
<path d="M870 352 L871.3 352.42 L872.38 351.47 L873.65 351.68 L874.74 350.86 L876 351 L876.68 352.14 L878.37 351.78 L879 353 L877.78 353.09 L876.66 353.78 L875.43 353.75 L874.23 353.98 L873 354 L872.12 353.15 L871.24 352.3 Z" fill="#e5e5e7" stroke="#2a2a2a" stroke-width="0.75" stroke-linejoin="round"/>
<path d="M668 337 L669.31 336.65 L670.69 336.86 L671.97 336.3 L673.29 336.03 L674.74 336.73 L676 336 L677.47 336.62 L678.97 337.18 L680 338.5 L678.7 338.9 L677.29 338.5 L676.05 339.4 L674.62 338.83 L673.33 339.27 L672 339.5 L670.8 338.45 L669.09 338.22 Z" fill="#e5e5e7" stroke="#2a2a2a" stroke-width="0.75" stroke-linejoin="round"/>
<path d="M680 460 L695 464 L708 467 L710 473 L713 477 L712 485 L700 500 L690 520 L680 500 L676 488 L675 485 L672.5 480 L670 475 L666 470 L664 464 L672 460 Z" fill="#e5e5e7" stroke="#4a4a4a" stroke-width="0.55" stroke-linejoin="round"/>
<path d="M741 430 L746 428 L749 432.5 L753.75 440 L752.5 443.75 L747.5 442.5 L746.25 437.5 L743 433 Z" fill="#e5e5e7" stroke="#4a4a4a" stroke-width="0.55" stroke-linejoin="round"/>
<path d="M638.75 504 L641.5 505 L643 509.5 L640.5 511.5 L638.5 508 Z" fill="#e5e5e7" stroke="#4a4a4a" stroke-width="0.55" stroke-linejoin="round"/>
<path d="M785 395 L788 394 L789.5 400 L790.5 408 L789.5 415 L787.5 414 L787.5 405 L786 400 Z" fill="#e5e5e7" stroke="#4a4a4a" stroke-width="0.55" stroke-linejoin="round"/>
<path d="M736 468 L738 467 L738.6 471.5 L736.5 472 Z" fill="#7c8b5a" stroke="#7c8b5a" stroke-width="0.4" stroke-linejoin="round"/>
<path d="M707.5 477.5 L710.5 477 L711 480.5 L708 481.5 Z" fill="#7c8b5a" stroke="#7c8b5a" stroke-width="0.4" stroke-linejoin="round"/>
<path d="M735 478 L738 477 L740 481 L741 486 L738 487 L736 483 Z" fill="#e5e5e7" stroke="#4a4a4a" stroke-width="0.55" stroke-linejoin="round"/>
<path d="M738 490 L742 489 L745 492 L743 495 L739 494 Z" fill="#e5e5e7" stroke="#4a4a4a" stroke-width="0.55" stroke-linejoin="round"/>
<path d="M743 497 L748 496 L750 501 L749 506 L745 505 L744 500 Z" fill="#e5e5e7" stroke="#4a4a4a" stroke-width="0.55" stroke-linejoin="round"/>
<path d="M733 492 L736 493 L732 500 L730 499 Z" fill="#e5e5e7" stroke="#4a4a4a" stroke-width="0.55" stroke-linejoin="round"/>
<path d="M728 518 L733 513 L739 512 L744 514 L745 520 L742 527 L735 531 L729 529 L726 523 Z" fill="#e5e5e7" stroke="#4a4a4a" stroke-width="0.55" stroke-linejoin="round"/>
<path d="M750 519 L756 518 L754 522 L758 524 L755 528 L752 532 L750 527 L751 523 Z" fill="#e5e5e7" stroke="#4a4a4a" stroke-width="0.55" stroke-linejoin="round"/>
<path d="M720 542 L728 543 L736 544 L745 546 L744 548 L735 547.5 L726 546 L720 545 Z" fill="#e5e5e7" stroke="#4a4a4a" stroke-width="0.55" stroke-linejoin="round"/>
<path d="M746 548 L752 548 L751 549.5 L746 549.5 Z" fill="#e5e5e7" stroke="#4a4a4a" stroke-width="0.55" stroke-linejoin="round"/>
<path d="M760 548 L766 547.5 L765 549.5 L760 549.8 Z" fill="#e5e5e7" stroke="#4a4a4a" stroke-width="0.55" stroke-linejoin="round"/>
<path d="M768 547 L775 546.5 L773 549 L768 549 Z" fill="#e5e5e7" stroke="#4a4a4a" stroke-width="0.55" stroke-linejoin="round"/>
<path d="M775 532.5 L785 530 L797.5 535 L805 540 L807.5 545 L800 547.5 L792.5 545 L785 547.5 L777.5 545 L773.75 540 Z" fill="#e5e5e7" stroke="#4a4a4a" stroke-width="0.55" stroke-linejoin="round"/>
<path d="M762 532 L767 530.5 L768 534 L763 535 Z" fill="#e5e5e7" stroke="#4a4a4a" stroke-width="0.55" stroke-linejoin="round"/>
<path d="M810 537 L815 536 L818 540 L813 541 Z" fill="#e5e5e7" stroke="#4a4a4a" stroke-width="0.55" stroke-linejoin="round"/>
<path d="M820 545 L826 548 L828 552 L823 550 Z" fill="#e5e5e7" stroke="#4a4a4a" stroke-width="0.55" stroke-linejoin="round"/>
<path d="M834 558 L836 562 L838 570 L835 569 L833 563 Z" fill="#e5e5e7" stroke="#4a4a4a" stroke-width="0.55" stroke-linejoin="round"/>
<path d="M838 575 L842 576 L843 580 L839 579 Z" fill="#e5e5e7" stroke="#4a4a4a" stroke-width="0.55" stroke-linejoin="round"/>
<path d="M773 525 L775 524.5 L775.5 526 L773.5 526.5 Z" fill="#e5e5e7" stroke="#4a4a4a" stroke-width="0.55" stroke-linejoin="round"/>
<path d="M778 528 L780 527.5 L780.5 529 L778.5 529.5 Z" fill="#e5e5e7" stroke="#4a4a4a" stroke-width="0.55" stroke-linejoin="round"/>
<path d="M820 532 L822 531.5 L822.5 533 L820.5 533.5 Z" fill="#e5e5e7" stroke="#4a4a4a" stroke-width="0.55" stroke-linejoin="round"/>
<path d="M826 535 L828 534.5 L828.5 536 L826.5 536.5 Z" fill="#e5e5e7" stroke="#4a4a4a" stroke-width="0.55" stroke-linejoin="round"/>
<path d="M845 585 L847 584.5 L847.5 586 L845.5 586.5 Z" fill="#e5e5e7" stroke="#4a4a4a" stroke-width="0.55" stroke-linejoin="round"/>
<path d="M855 560 L857 559.5 L857.5 561 L855.5 561.5 Z" fill="#e5e5e7" stroke="#4a4a4a" stroke-width="0.55" stroke-linejoin="round"/>
<path d="M852 572 L854 571.5 L854.5 573 L852.5 573.5 Z" fill="#e5e5e7" stroke="#4a4a4a" stroke-width="0.55" stroke-linejoin="round"/>
<path d="M785 530 L785 547.5" fill="none" stroke="#4a4a4a" stroke-width="0.45" stroke-linejoin="round"/>
<path d="M735 520 L742 527" fill="none" stroke="#4a4a4a" stroke-width="0.4" stroke-linejoin="round"/>
<path d="M444 440 L449.2 438.7 L455.5 438.1 L461.9 437.4 L467 437.4 L469.6 436.2 L472.1 436.8 L474.7 439.4 L475.3 443.2 L476 445.7 L479.8 447 L483.6 448.3 L488.7 449.6 L491.3 451.5 L495.1 450.9 L498.9 448.3 L504 447 L509.2 448.3 L514.3 449.6 L519.4 448.3 L524.5 449.6 L529.6 449.6 L532.1 450.9 L532.5 460 L535 467.5 L537.5 475 L540 482.5 L545 490 L550 497.5 L557.5 502.5 L563.75 506.25 L565 512.5 L560 517.5 L555 523.75 L550 530 L546.25 537.5 L545 545 L546.25 552.5 L545 560 L542.5 565 L537.5 570 L533.75 575 L532.5 580 L531.25 585 L530 590 L526.25 595 L520 602.5 L512.5 606.25 L505 608.75 L497.5 610 L495 607.5 L492.5 600 L490 592.5 L486.25 585 L482.5 577.5 L480 570 L478.75 562.5 L480 552.5 L478.75 545 L476.25 537.5 L473.75 530 L472.5 522.5 L470 517.5 L462.5 515 L455 513.75 L445 513.75 L435 515 L427.5 512.5 L421.25 507.5 L417.5 503.75 L415 497.5 L412 488 L413 478 L418 468 L425 458 L432 450 L438 444 Z" fill="#e5e5e7" stroke="#4a4a4a" stroke-width="0.55" stroke-linejoin="round"/>
<path d="M552.5 555 L560 552.5 L566.25 555 L567.5 560 L563.75 570 L560 580 L556.25 586.25 L552.5 585 L552 577.5 L553.75 567.5 L552.5 560 Z" fill="#e5e5e7" stroke="#4a4a4a" stroke-width="0.55" stroke-linejoin="round"/>
<path d="M449.2 438.7 L452 446 L458 452 L466 458 L473.2 463.5" fill="none" stroke="#4a4a4a" stroke-width="0.45" stroke-linejoin="round"/>
<path d="M469 446.9 L472.5 453.8 L473.2 463.5 L477.3 469 L485.6 469.7 L506.4 476 L508.5 473.2" fill="none" stroke="#4a4a4a" stroke-width="0.45" stroke-linejoin="round"/>
<path d="M508.5 450.4 L508.5 473.2 L531.3 473.2" fill="none" stroke="#4a4a4a" stroke-width="0.45" stroke-linejoin="round"/>
<path d="M477.3 469 L459.4 480.1 L452.4 477.3 L442.8 491.2" fill="none" stroke="#4a4a4a" stroke-width="0.45" stroke-linejoin="round"/>
<path d="M459.4 480.1 L458 485.6 L459.4 494 L469 495.3 L482.9 492.6" fill="none" stroke="#4a4a4a" stroke-width="0.45" stroke-linejoin="round"/>
<path d="M485.6 469.7 L487.7 476 L487 484.3 L482.9 492.6 L484.3 498.1 L487 503.6 L498.1 500.9 L503.6 498.1 L505 488.4 L507.1 481.5 L506.4 476" fill="none" stroke="#4a4a4a" stroke-width="0.45" stroke-linejoin="round"/>
<path d="M459.4 494 L458 503.6 L462.1 513.3" fill="none" stroke="#4a4a4a" stroke-width="0.45" stroke-linejoin="round"/>
<path d="M482.9 492.6 L480.1 502.2 L473.2 511.9" fill="none" stroke="#4a4a4a" stroke-width="0.45" stroke-linejoin="round"/>
<path d="M448.3 498.1 L459.4 494" fill="none" stroke="#4a4a4a" stroke-width="0.45" stroke-linejoin="round"/>
<path d="M445.5 500 L446 513" fill="none" stroke="#4a4a4a" stroke-width="0.45" stroke-linejoin="round"/>
<path d="M450 499 L451 513.5" fill="none" stroke="#4a4a4a" stroke-width="0.45" stroke-linejoin="round"/>
<path d="M455 498 L455.5 513.5" fill="none" stroke="#4a4a4a" stroke-width="0.45" stroke-linejoin="round"/>
<path d="M442.8 491.2 L436 500 L430 505" fill="none" stroke="#4a4a4a" stroke-width="0.45" stroke-linejoin="round"/>
<path d="M503.6 498.1 L514.7 500.9 L523 499.5 L528.5 496.7 L532.7 495.3 L534 481.5 L531.3 473.2" fill="none" stroke="#4a4a4a" stroke-width="0.45" stroke-linejoin="round"/>
<path d="M487 503.6 L495.3 514.7 L506.4 513.3 L514.7 509.2 L523 513.3 L530.2 516.4" fill="none" stroke="#4a4a4a" stroke-width="0.45" stroke-linejoin="round"/>
<path d="M528.5 496.7 L535 503 L542 506 L548 505" fill="none" stroke="#4a4a4a" stroke-width="0.45" stroke-linejoin="round"/>
<path d="M530.2 516.4 L547.8 518.7 L550 512" fill="none" stroke="#4a4a4a" stroke-width="0.45" stroke-linejoin="round"/>
<path d="M547.8 518.7 L544.3 537.5" fill="none" stroke="#4a4a4a" stroke-width="0.45" stroke-linejoin="round"/>
<path d="M522 517.6 L520.9 529.3 L518.5 535.1 L519.7 544.5 L517.3 549.2 L519.7 556.2 L515 553.8 L506.8 552.7 L503.3 550.3 L502.1 544.5 L496.3 543.3 L490.4 541 L486.9 539.8 L478.7 538.6" fill="none" stroke="#4a4a4a" stroke-width="0.45" stroke-linejoin="round"/>
<path d="M478.7 538.6 L483.4 535.1 L489.3 529.3 L492.8 521.1 L493.9 515.2" fill="none" stroke="#4a4a4a" stroke-width="0.45" stroke-linejoin="round"/>
<path d="M471.7 521.1 L478 522 L483 519 L492.8 521.1" fill="none" stroke="#4a4a4a" stroke-width="0.45" stroke-linejoin="round"/>
<path d="M473 530 L479 529 L483.4 535.1" fill="none" stroke="#4a4a4a" stroke-width="0.45" stroke-linejoin="round"/>
<path d="M477.6 567.3 L489.3 568.5 L498.6 569 L503.3 569 L503.3 553.8" fill="none" stroke="#4a4a4a" stroke-width="0.45" stroke-linejoin="round"/>
<path d="M498.6 569 L498.6 580.7 L497.4 590.1" fill="none" stroke="#4a4a4a" stroke-width="0.45" stroke-linejoin="round"/>
<path d="M498.6 569 L506.8 570.2 L512.7 576.1 L517.3 579.6" fill="none" stroke="#4a4a4a" stroke-width="0.45" stroke-linejoin="round"/>
<path d="M512.7 565.5 L525.5 563.2 L527.9 572.6 L523.2 579.6" fill="none" stroke="#4a4a4a" stroke-width="0.45" stroke-linejoin="round"/>
<path d="M503.3 553.8 L512.7 565.5" fill="none" stroke="#4a4a4a" stroke-width="0.45" stroke-linejoin="round"/>
<path d="M519.7 556.2 L524 559 L530.2 551.5" fill="none" stroke="#4a4a4a" stroke-width="0.45" stroke-linejoin="round"/>
<path d="M530.2 551.5 L532.6 565.5 L531.4 573.7 L532.6 581.9" fill="none" stroke="#4a4a4a" stroke-width="0.45" stroke-linejoin="round"/>
<path d="M527.9 529.3 L544.3 538.6 L541.9 551.5 L530.2 551.5" fill="none" stroke="#4a4a4a" stroke-width="0.45" stroke-linejoin="round"/>
<path d="M522 517.6 L527 519 L530.2 516.4" fill="none" stroke="#4a4a4a" stroke-width="0.45" stroke-linejoin="round"/>
<path d="M520.9 529.3 L527.9 529.3" fill="none" stroke="#4a4a4a" stroke-width="0.45" stroke-linejoin="round"/>
<path d="M490 595 L497.5 593.75 L502.5 590 L510 587.5 L517.5 582.5 L522.5 581.25 L526.25 585 L526.25 590 L522.5 596.25 L516.25 602.5 L510 606.25 L502.5 608.75 L496.25 609.5 L493.75 605 L491.25 600 Z" fill="#a13f25" stroke="#a13f25" stroke-width="0.5" stroke-linejoin="round"/>
<path d="M514.5 595.5 L517.5 594.8 L518.8 597.5 L516 599 Z" fill="url(#bg)"/>
<path d="M514.5 595.5 L517.5 594.8 L518.8 597.5 L516 599 Z" fill="url(#hl)" stroke="#4a4a4a" stroke-width="0.35" stroke-linejoin="round"/>
<path d="M425.1 395.5 L428.9 394.3 L432.1 395.5 L434 397.4 L432.8 400.6 L428.9 401.9 L425.7 401.3 L425.1 398.7 Z" fill="#e5e5e7" stroke="#4a4a4a" stroke-width="0.55" stroke-linejoin="round"/>
<path d="M439.1 385.3 L442.3 384.7 L443.6 387.2 L443 390.4 L444.9 393.6 L447.4 396.2 L450.6 398.7 L452.6 400.6 L451.3 403.2 L447.4 404.5 L443 405.1 L439.1 405.7 L436.6 405.1 L440.4 402.6 L441.7 400.6 L439.1 398.7 L439.8 395.5 L437.9 393 L436.6 390.4 L434 387.9 L435.3 386.6 Z" fill="#d88b71" stroke="#d88b71" stroke-width="0.5" stroke-linejoin="round"/>
<path d="M432.1 394.3 L434.7 393.6 L435.3 395.5 L432.8 396.2 Z" fill="#d88b71" stroke="#d88b71" stroke-width="0.4" stroke-linejoin="round"/>
<path d="M439.1 410.2 L442.3 408.9 L446.2 408.3 L447.4 406.4 L451.3 405.1 L453.8 403.8 L458.3 404.5 L462.1 405.7 L465.3 407 L466.6 409.6 L466 412.1 L464.7 414 L466 416.6 L467.2 419.8 L465.3 421.7 L460.9 423 L457 423 L453.2 423.6 L449.4 422.3 L446.2 420.4 L446.8 417.2 L446.2 414 L443 412.1 Z" fill="#b35e4a" stroke="#b35e4a" stroke-width="0.5" stroke-linejoin="round"/>
<path d="M473.2 426 L474.6 425.6 L474.7 429.4 L473.4 429.6 Z" fill="#b35e4a" stroke="#b35e4a" stroke-width="0.4" stroke-linejoin="round"/>
<path d="M465.3 398.7 L468.5 396.2 L472.3 395.5 L476.2 396.2 L480.6 395.5 L482.6 398.1 L483.8 401.9 L483.2 405.1 L480 407 L481.3 409.6 L480 411.5 L476.2 412.1 L471.1 412.1 L467.2 410.9 L465.3 408.3 L464.7 404.5 L465.3 401.9 Z" fill="#f4b096" stroke="#f4b096" stroke-width="0.5" stroke-linejoin="round"/>
<path d="M441.7 422.3 L446 427 L448 433.8" fill="none" stroke="#4a4a4a" stroke-width="0.45" stroke-linejoin="round"/>
<path d="M466 416.6 L470.5 415.5 L474.9 413.4" fill="none" stroke="#4a4a4a" stroke-width="0.45" stroke-linejoin="round"/>
<path d="M466.6 409.6 L471 411.5 L476.2 412.1 L480 412.5 L483.8 414" fill="none" stroke="#4a4a4a" stroke-width="0.45" stroke-linejoin="round"/>
<path d="M483.2 405.1 L488 405.5 L494 404.5 L499 402" fill="none" stroke="#4a4a4a" stroke-width="0.45" stroke-linejoin="round"/>
<path d="M483.8 401.9 L490 401.5 L497 400" fill="none" stroke="#4a4a4a" stroke-width="0.45" stroke-linejoin="round"/>
<path d="M483.8 414 L488 413 L494 411.5 L500 411 L506 410 L512 411.5 L518 412.5" fill="none" stroke="#4a4a4a" stroke-width="0.45" stroke-linejoin="round"/>
<path d="M487.5 420 L492 417 L497 416 L503 417.5 L508 420.5 L512 423 L514.9 419" fill="none" stroke="#4a4a4a" stroke-width="0.45" stroke-linejoin="round"/>
<path d="M492 417 L493 413" fill="none" stroke="#4a4a4a" stroke-width="0.45" stroke-linejoin="round"/>
<path d="M497 416 L499 411" fill="none" stroke="#4a4a4a" stroke-width="0.45" stroke-linejoin="round"/>
<path d="M503 417.5 L505 411" fill="none" stroke="#4a4a4a" stroke-width="0.45" stroke-linejoin="round"/>
<path d="M508 420.5 L512 416 L518 412.5" fill="none" stroke="#4a4a4a" stroke-width="0.45" stroke-linejoin="round"/>
<path d="M498 431.5 L502 428 L507 427 L512 428 L514.5 425" fill="none" stroke="#4a4a4a" stroke-width="0.45" stroke-linejoin="round"/>
<path d="M502 428 L500 424 L496 421" fill="none" stroke="#4a4a4a" stroke-width="0.45" stroke-linejoin="round"/>
<path d="M507 427 L508 423" fill="none" stroke="#4a4a4a" stroke-width="0.45" stroke-linejoin="round"/>
<path d="M494 404.5 L496 398 L494 394" fill="none" stroke="#4a4a4a" stroke-width="0.45" stroke-linejoin="round"/>
<path d="M499 402 L503 405 L510 406 L518 405 L525 409 L530 412" fill="none" stroke="#4a4a4a" stroke-width="0.45" stroke-linejoin="round"/>
<path d="M512 411.5 L518 405" fill="none" stroke="#4a4a4a" stroke-width="0.45" stroke-linejoin="round"/>
<path d="M505 397 L510 394" fill="none" stroke="#4a4a4a" stroke-width="0.45" stroke-linejoin="round"/>
<path d="M536 438.5 L542 437.5 L547.7 436.5 L554.5 436.5 L560 438" fill="none" stroke="#4a4a4a" stroke-width="0.45" stroke-linejoin="round"/>
<path d="M547.7 436.5 L552 433 L554.5 430 L552 427.5 L547.7 425.4" fill="none" stroke="#4a4a4a" stroke-width="0.45" stroke-linejoin="round"/>
<path d="M554.5 430 L560 428 L564.5 426.3" fill="none" stroke="#4a4a4a" stroke-width="0.45" stroke-linejoin="round"/>
<path d="M545.6 437.5 L549.3 442 L554.7 449.3" fill="none" stroke="#4a4a4a" stroke-width="0.45" stroke-linejoin="round"/>
<path d="M531.2 447 L536 444 L540.2 445.6 L547 449 L554.7 452.9 L561 453.5 L567.3 454.7" fill="none" stroke="#4a4a4a" stroke-width="0.45" stroke-linejoin="round"/>
<path d="M560 438 L561.9 440.2 L567.3 447.5 L572.8 451.1" fill="none" stroke="#4a4a4a" stroke-width="0.45" stroke-linejoin="round"/>
<path d="M561.9 405.9 L567.3 403.1" fill="none" stroke="#4a4a4a" stroke-width="0.45" stroke-linejoin="round"/>
<path d="M574.6 422.1 L581.8 418.5 L589 414.9 L596.3 420.3 L603.5 422.1 L610.8 423.9 L618 425.7 L625.2 427.6 L627 429.4" fill="none" stroke="#4a4a4a" stroke-width="0.45" stroke-linejoin="round"/>
<path d="M581.8 418.5 L581.8 433 L588 435 L594.5 436.6 L603.5 438.4 L610.8 436.6 L618 431.2 L625.2 433" fill="none" stroke="#4a4a4a" stroke-width="0.45" stroke-linejoin="round"/>
<path d="M596.3 440.2 L596.3 450 L596.3 458.3 L592 466" fill="none" stroke="#4a4a4a" stroke-width="0.45" stroke-linejoin="round"/>
<path d="M610.8 436.6 L610.8 438.4 L618 443.8 L612.6 449.3 L607.1 454.7 L599.9 460.1" fill="none" stroke="#4a4a4a" stroke-width="0.45" stroke-linejoin="round"/>
<path d="M603.5 422.1 L604 428 L610.8 430 L618 431.2" fill="none" stroke="#4a4a4a" stroke-width="0.45" stroke-linejoin="round"/>
<path d="M575.5 438.4 L581.8 433" fill="none" stroke="#4a4a4a" stroke-width="0.45" stroke-linejoin="round"/>
<path d="M470 387.5 L473 380 L477 373 L480 368" fill="none" stroke="#4a4a4a" stroke-width="0.45" stroke-linejoin="round"/>
<path d="M483.2 405.1 L488 406 L493 407.5 L498 406.5 L502 404 L503 399 L500 394.5" fill="none" stroke="#4a4a4a" stroke-width="0.45" stroke-linejoin="round"/>
<path d="M488 406 L491 408 L488 410 L483 410.5" fill="none" stroke="#4a4a4a" stroke-width="0.45" stroke-linejoin="round"/>
<path d="M491 408 L498 407 L499 409.5 L493 410.5 L488 410" fill="none" stroke="#4a4a4a" stroke-width="0.45" stroke-linejoin="round"/>
<path d="M480 411.5 L486 412 L491 411.5 L488 410" fill="none" stroke="#4a4a4a" stroke-width="0.45" stroke-linejoin="round"/>
<path d="M491 411.5 L493 410.5 L499 409.5 L502 412 L498 414.5 L492 414.5" fill="none" stroke="#4a4a4a" stroke-width="0.45" stroke-linejoin="round"/>
<path d="M502 412 L506 408.5 L512 410 L516 413 L514 417 L508 418 L502 417 L500 414.5" fill="none" stroke="#4a4a4a" stroke-width="0.45" stroke-linejoin="round"/>
<path d="M508 418 L514 417 L516 419 L515 422 L510 423 L506 421.5" fill="none" stroke="#4a4a4a" stroke-width="0.45" stroke-linejoin="round"/>
<path d="M498 414.5 L500 418 L502 421 L506 421.5" fill="none" stroke="#4a4a4a" stroke-width="0.45" stroke-linejoin="round"/>
<path d="M486 412 L490 415 L494 418 L497 416 L498 414.5" fill="none" stroke="#4a4a4a" stroke-width="0.45" stroke-linejoin="round"/>
<path d="M494 418 L496 421 L499 422" fill="none" stroke="#4a4a4a" stroke-width="0.45" stroke-linejoin="round"/>
<path d="M503 399 L510 400 L520 399 L528 402 L535 405 L540 410" fill="none" stroke="#4a4a4a" stroke-width="0.45" stroke-linejoin="round"/>
<path d="M500 394.5 L505 392 L512 393 L516 396 L510 400" fill="none" stroke="#4a4a4a" stroke-width="0.45" stroke-linejoin="round"/>
<path d="M495 390 L505 389 L510 386" fill="none" stroke="#4a4a4a" stroke-width="0.45" stroke-linejoin="round"/>
<path d="M506 408.5 L506 404 L510 400" fill="none" stroke="#4a4a4a" stroke-width="0.45" stroke-linejoin="round"/>
<path d="M516 413 L522 411 L530 411 L538 413" fill="none" stroke="#4a4a4a" stroke-width="0.45" stroke-linejoin="round"/>
<path d="M489 394 L492.5 387 L496 382 L493 392 Z" fill="url(#bg)"/>
<path d="M489 394 L492.5 387 L496 382 L493 392 Z" fill="url(#hl)" stroke="#4a4a4a" stroke-width="0.45" stroke-linejoin="round"/>
<path d="M548 368 L560 362.5 L575 361.25 L590 360 L602.5 358.75 L610 355 L613.75 351.25 L620 352.5 L622.5 360 L627.5 361.25 L632.5 356.25 L640 352.5 L650 347.5 L660 345 L672.5 343.75 L685 342 L695 340.5 L705 341.25 L717.5 343.75 L715 347.5 L730 350 L742.5 350 L755 351.25 L762.5 353.75 L780 353.75 L795 352.5 L810 355 L822.5 356.25 L830 357.5 L842.5 358.75 L855 360 L867.5 361.25 L880 362.5 L890 365 L898.75 366.25 L895 368.75 L885 370 L875 368.75 L870 371.25 L865 375 L855 376.25 L845 378.75 L837.5 382.5 L832.5 387.5 L827.5 393.75 L822.5 400 L818.75 402.5 L817.5 395 L820 387.5 L827.5 381.25 L825 379 L815 381.25 L805 382.5 L795 383.75 L785 386.25 L777.5 390 L773 394 L778 396 L783 398 L783.8 401 L782.8 406.4 L780.6 410.6 L776.4 416 L771.1 420.2 L765.7 422.9 L760.4 423.9 L756.2 425 L751.9 426.6 L747.7 428.7 L744.5 430.3 L740.2 431.9 L738.1 430.9 L734.9 429.3 L730.6 431.9 L728.5 434 L732.8 435.1 L738.1 435.6 L739.7 437.2 L736 439.4 L732.8 441.5 L733.8 444.7 L736 447.9 L736.5 451.1 L738.6 454.3 L739.1 457.4 L737.5 460.5 L735 464 L732.5 466 L725 470 L715 470 L707.5 472.5 L697.5 473.75 L690 475 L685 470 L680 467 L676 469 L672 466 L668 463 L663 462 L661.25 465 L662.3 468 L660.5 471.6 L655.1 477 L647.9 484.2 L642.4 491.5 L638.8 498.7 L636 503 L633.4 506 L630 497.5 L626.25 490 L622.5 482.5 L618 474.6 L614.4 471 L612.6 467.3 L614.4 463.7 L618 460.1 L619.8 456.5 L621.6 452.9 L625.2 447.5 L628.8 443.8 L632.5 440.2 L628.8 436.6 L625.2 433 L627 429.4 L636.1 425.7 L639.7 422.1 L645.1 416.7 L650.5 414.9 L654.2 410.4 L654.2 409.5 L648.7 407.7 L639.7 404 L630.6 400.4 L621.6 398.6 L612.6 397.7 L603.5 395.9 L596.3 395.5 L594.5 397.7 L589 400.4 L581.8 402.2 L574.6 402.2 L567.3 403.1 L561.9 405.9 L561.5 409 L561.9 413.1 L561.3 417.8 L563 423 L564.5 426.3 L557.9 424.6 L551.1 422.9 L546.8 422 L542.6 419.5 L538.3 417.8 L538.4 416.7 L540.2 413.1 L547.5 409.5 L554.7 404 L560.1 400.4 L563.7 396.8 L555 385 Z" fill="#7c8b5a" stroke="#7c8b5a" stroke-width="0.5" stroke-linejoin="round"/>
<path d="M657.5 406.25 L665 405 L675 402.5 L685 401.25 L695 403.75 L705 407.5 L715 408.75 L725 410 L732.5 412.5 L733.8 415 L727.5 416.25 L717.5 417.5 L710 420 L702.5 423.75 L692.5 425 L682.5 422.5 L672.5 420 L665 416.25 L660 412.5 Z" fill="#e5e5e7" stroke="#4a4a4a" stroke-width="0.55" stroke-linejoin="round"/>
<path d="M642.5 453.5 L647 454.5 L652.5 456.25 L658 458.5 L662.5 460 L663 462.5 L658 462.8 L652 461.3 L647 459.5 L642.8 457 Z" fill="#e5e5e7" stroke="#4a4a4a" stroke-width="0.55" stroke-linejoin="round"/>
<path d="M666 459.5 L670 459 L671 461 L667 461.3 Z" fill="#e5e5e7" stroke="#4a4a4a" stroke-width="0.55" stroke-linejoin="round"/>
<path d="M663 462 L668 463 L672 466 L671 472 L668 474 L665 471.5 L661.25 465 Z" fill="#e5e5e7" stroke="#4a4a4a" stroke-width="0.55" stroke-linejoin="round"/>
<path d="M561.9 405.9 L567.3 403.1 L574.6 402.2 L581.8 402.2 L589 400.4 L594.5 397.7 L596.3 395.5 L603.5 395.9 L612.6 397.7 L621.6 398.6 L630.6 400.4 L639.7 404 L648.7 407.7 L654.2 409.5 L654.2 410.4 L650.5 414.9 L645.1 416.7 L639.7 422.1 L636.1 425.7 L627 429.4 L625.2 433 L628.8 436.6 L632.5 440.2 L628.8 443.8 L625.2 447.5 L621.6 452.9 L619.8 456.5 L618 460.1 L614.4 463.7 L612.6 467.3" fill="none" stroke="#4a4a4a" stroke-width="0.5" stroke-linejoin="round"/>
<path d="M538.4 416.7 L540.2 413.1 L547.5 409.5 L554.7 404 L560.1 400.4 L563.7 396.8" fill="none" stroke="#4a4a4a" stroke-width="0.45" stroke-linejoin="round"/>
<path d="M690 475 L685 470 L680 467 L676 469 L672 466" fill="none" stroke="#4a4a4a" stroke-width="0.5" stroke-linejoin="round"/>
<path d="M707.5 472.5 L710 473" fill="none" stroke="#4a4a4a" stroke-width="0.5" stroke-linejoin="round"/>
<path d="M745.5 430.9 L748.7 428.7 L753 426.6 L756.7 423.9 L758.3 425 L756.2 428.7 L754 431.9 L754.6 435.1 L754 439.4 L753 442 L750.9 443.1 L748.7 443.1 L748.2 440.4 L748.7 437.2 L747.1 434 L745.5 432.4 Z" fill="#e5e5e7" stroke="#4a4a4a" stroke-width="0.55" stroke-linejoin="round"/>
<path d="M747.1 434 L751 433.5 L754.6 435.1" fill="none" stroke="#4a4a4a" stroke-width="0.4" stroke-linejoin="round"/>
<path d="M785.4 400 L788.1 403.2 L790.2 408.5 L790.7 413.8 L788.6 414.4 L787 410.6 L786 405.3 Z" fill="#e5e5e7" stroke="#4a4a4a" stroke-width="0.55" stroke-linejoin="round"/>
<path d="M785.4 417.6 L788.1 417 L790.2 419.7 L793.4 420.7 L792.9 422.3 L789.7 423.9 L787 425 L783.8 424.5 L781.7 425.5 L782.8 422.9 L784.9 420.7 Z" fill="#f3ae95" stroke="#f3ae95" stroke-width="0.5" stroke-linejoin="round"/>
<path d="M784.4 427.1 L785.4 429.8 L784.9 434 L783.8 438.3 L781.7 440.4 L779.6 441 L777.4 442.6 L774.3 443.6 L771.1 444.7 L767.9 445.2 L764.7 445.7 L762 446.8 L759.4 447.3 L757.8 447.3 L758.3 445.7 L760.4 444.7 L763.6 443.1 L766.8 442 L770 441 L773.2 439.4 L775.3 437.8 L776.9 435.6 L779 434 L780.6 431.9 L781.7 429.3 L782.8 427.4 Z" fill="#f3ae95" stroke="#f3ae95" stroke-width="0.5" stroke-linejoin="round"/>
<path d="M757.2 446.8 L759.9 447.9 L761 450 L759.4 451.1 L757.8 450.5 L757.2 448.9 Z" fill="#f3ae95" stroke="#f3ae95" stroke-width="0.5" stroke-linejoin="round"/>
<path d="M763.6 445.7 L767.9 445.7 L767.3 447.3 L764.1 447.3 Z" fill="#f3ae95" stroke="#f3ae95" stroke-width="0.5" stroke-linejoin="round"/>
<path d="M794.5 419.7 L799 417 L803 414.5 L807 412 L811 409.5 L815 407 L820 404.3" fill="none" stroke="#4a4a4a" stroke-width="0.6" stroke-linejoin="round"/>
<path d="M580.3 575.8 L582 575.6 L582.2 577.2 L580.5 577.4 Z" fill="#e5e5e7" stroke="#4a4a4a" stroke-width="0.55" stroke-linejoin="round"/>
<path d="M718.75 580 L720 590 L722.5 600 L722.5 608.75 L730 610 L740 606.25 L752.5 603.75 L762.5 603.75 L772.5 606.25 L775 611.25 L778.75 612.5 L782.5 616.25 L790 618.75 L797.5 618.75 L802.5 616.25 L807.5 610 L811.25 602.5 L813.75 595 L812.5 587.5 L807.5 580 L802.5 572.5 L797.5 567.5 L795 560 L791.25 555 L787.5 551.25 L785 560 L782.5 567.5 L777.5 565 L772.5 561.25 L770 556.25 L765 553.75 L758.75 555 L755 560 L750 561.25 L745 563.75 L740 567.5 L737.5 572.5 L730 575 L723.75 576.25 Z" fill="#e5e5e7" stroke="#4a4a4a" stroke-width="0.55" stroke-linejoin="round"/>
<path d="M770 556.25 L770 590 L785 590" fill="none" stroke="#4a4a4a" stroke-width="0.35" stroke-linejoin="round"/>
<path d="M752.5 559 L752.5 603.75" fill="none" stroke="#4a4a4a" stroke-width="0.35" stroke-linejoin="round"/>
<path d="M792.5 622.5 L800 622.5 L801.25 627.5 L796.25 630 L792.5 626.25 Z" fill="#e5e5e7" stroke="#4a4a4a" stroke-width="0.55" stroke-linejoin="round"/>
<path d="M858.75 610 L865 615 L872.5 617.5 L870 622.5 L865 626.25 L862.5 622.5 L861.25 616.25 Z" fill="#e5e5e7" stroke="#4a4a4a" stroke-width="0.55" stroke-linejoin="round"/>
<path d="M863.75 626.25 L860 630 L852.5 633.75 L845 637.5 L846.25 639.5 L855 636.25 L861.25 631.25 Z" fill="#e5e5e7" stroke="#4a4a4a" stroke-width="0.55" stroke-linejoin="round"/>
<path d="M719 578 L720.5 577.5 L721 579.5 L719.5 580 Z" fill="#e5e5e7" stroke="#4a4a4a" stroke-width="0.55" stroke-linejoin="round"/>
<path d="M884 632 L885.5 631.6 L885.7 632.8 L884.3 633.1 Z" fill="#e5e5e7" stroke="#4a4a4a" stroke-width="0.55" stroke-linejoin="round"/>
<path d="M843 648 L844.5 647.6 L844.7 648.8 L843.3 649.1 Z" fill="#e5e5e7" stroke="#4a4a4a" stroke-width="0.55" stroke-linejoin="round"/>
<path d="M863 651 L864.5 650.6 L864.7 651.8 L863.3 652.1 Z" fill="#e5e5e7" stroke="#4a4a4a" stroke-width="0.55" stroke-linejoin="round"/>
</g>
<circle cx="395.6" cy="352.7" r="37.9" fill="#f4f8fa"/>
<circle cx="395.6" cy="352.7" r="37.1" fill="#cf806a" stroke="#c4705a" stroke-width="0.9"/>
<text x="368.60" y="357.30" font-size="42.15" font-family="Liberation Sans" font-weight="bold" fill="#1f1d1e" textLength="54.86" lengthAdjust="spacingAndGlyphs">4.9</text>
<text x="367.35" y="373.80" font-size="12.06" font-family="Liberation Sans" font-weight="bold" fill="#1f1d1e" textLength="56.79" lengthAdjust="spacingAndGlyphs">CAMERON</text>
<circle cx="528.4" cy="378.0" r="37.9" fill="#f4f8fa"/>
<circle cx="528.4" cy="378.0" r="37.1" fill="#f3ae95" stroke="#ee9f84" stroke-width="0.9"/>
<text x="501.71" y="383.80" font-size="42.15" font-family="Liberation Sans" font-weight="bold" fill="#1f1d1e" textLength="53.58" lengthAdjust="spacingAndGlyphs">5.6</text>
<text x="503.83" y="400.30" font-size="12.06" font-family="Liberation Sans" font-weight="bold" fill="#1f1d1e" textLength="48.73" lengthAdjust="spacingAndGlyphs">MERKEL</text>
<circle cx="138.2" cy="473.0" r="37.9" fill="#f4f8fa"/>
<circle cx="138.2" cy="473.0" r="37.1" fill="#f3ae95" stroke="#ee9f84" stroke-width="0.9"/>
<text x="112.04" y="482.60" font-size="42.15" font-family="Liberation Sans" font-weight="bold" fill="#1f1d1e" textLength="52.53" lengthAdjust="spacingAndGlyphs">5.3</text>
<text x="115.76" y="499.10" font-size="12.06" font-family="Liberation Sans" font-weight="bold" fill="#1f1d1e" textLength="44.70" lengthAdjust="spacingAndGlyphs">OBAMA</text>
<circle cx="417.2" cy="460.6" r="37.9" fill="#f4f8fa"/>
<circle cx="417.2" cy="460.6" r="37.1" fill="#b35e4a" stroke="#a44a36" stroke-width="0.9"/>
<text x="391.90" y="466.00" font-size="42.15" font-family="Liberation Sans" font-weight="bold" fill="#1f1d1e" textLength="51.37" lengthAdjust="spacingAndGlyphs">3.7</text>
<text x="389.54" y="482.50" font-size="12.06" font-family="Liberation Sans" font-weight="bold" fill="#1f1d1e" textLength="55.05" lengthAdjust="spacingAndGlyphs">HOLLANDE</text>
<circle cx="861.9" cy="419.7" r="37.9" fill="#f4f8fa"/>
<circle cx="861.9" cy="419.7" r="37.1" fill="#7c8b5a" stroke="#6f7f4c" stroke-width="0.9"/>
<text x="837.86" y="425.50" font-size="42.15" font-family="Liberation Sans" font-weight="bold" fill="#1f1d1e" textLength="47.95" lengthAdjust="spacingAndGlyphs">8.1</text>
<text x="843.12" y="442.00" font-size="12.35" font-family="Liberation Sans" fill="#1f1d1e" stroke="#1f1d1e" stroke-width="0.35" textLength="37.55" lengthAdjust="spacingAndGlyphs">PUTIN</text>
<circle cx="572.0" cy="477.5" r="37.9" fill="#f4f8fa"/>
<circle cx="572.0" cy="477.5" r="37.1" fill="#7c8b5a" stroke="#6f7f4c" stroke-width="0.9"/>
<text x="545.17" y="483.30" font-size="42.15" font-family="Liberation Sans" font-weight="bold" fill="#1f1d1e" textLength="53.83" lengthAdjust="spacingAndGlyphs">8.3</text>
<text x="555.78" y="499.80" font-size="12.35" font-family="Liberation Sans" fill="#1f1d1e" stroke="#1f1d1e" stroke-width="0.35" textLength="32.57" lengthAdjust="spacingAndGlyphs">MODI</text>
<circle cx="786.7" cy="485.4" r="37.9" fill="#f4f8fa"/>
<circle cx="786.7" cy="485.4" r="37.1" fill="#f3ae95" stroke="#ee9f84" stroke-width="0.9"/>
<text x="760.64" y="491.20" font-size="42.15" font-family="Liberation Sans" font-weight="bold" fill="#1f1d1e" textLength="52.47" lengthAdjust="spacingAndGlyphs">5.2</text>
<text x="774.98" y="507.70" font-size="12.35" font-family="Liberation Sans" fill="#1f1d1e" stroke="#1f1d1e" stroke-width="0.35" textLength="23.94" lengthAdjust="spacingAndGlyphs">ABE</text>
<circle cx="691.3" cy="519.1" r="37.9" fill="#f4f8fa"/>
<circle cx="691.3" cy="519.1" r="37.1" fill="#7c8b5a" stroke="#6f7f4c" stroke-width="0.9"/>
<text x="665.56" y="524.90" font-size="42.15" font-family="Liberation Sans" font-weight="bold" fill="#1f1d1e" textLength="51.93" lengthAdjust="spacingAndGlyphs">8.7</text>
<text x="685.92" y="541.40" font-size="12.35" font-family="Liberation Sans" fill="#1f1d1e" stroke="#1f1d1e" stroke-width="0.35" textLength="11.61" lengthAdjust="spacingAndGlyphs">XI</text>
<circle cx="268.3" cy="593.5" r="37.9" fill="#f4f8fa"/>
<circle cx="268.3" cy="593.5" r="37.1" fill="#cf806a" stroke="#c4705a" stroke-width="0.9"/>
<text x="241.61" y="597.80" font-size="42.15" font-family="Liberation Sans" font-weight="bold" fill="#1f1d1e" textLength="53.98" lengthAdjust="spacingAndGlyphs">4.8</text>
<text x="241.55" y="614.30" font-size="12.06" font-family="Liberation Sans" font-weight="bold" fill="#1f1d1e" textLength="53.21" lengthAdjust="spacingAndGlyphs">ROUSSEFF</text>
<circle cx="444.6" cy="604.6" r="37.9" fill="#f4f8fa"/>
<circle cx="444.6" cy="604.6" r="37.1" fill="#9b3c23" stroke="#8a2c14" stroke-width="0.9"/>
<text x="417.24" y="609.80" font-size="42.15" font-family="Liberation Sans" font-weight="bold" fill="#ffffff" textLength="54.57" lengthAdjust="spacingAndGlyphs">2.8</text>
<text x="426.73" y="626.30" font-size="12.06" font-family="Liberation Sans" font-weight="bold" fill="#ffffff" textLength="35.69" lengthAdjust="spacingAndGlyphs">ZUMA</text>
<text x="39.99" y="701.50" font-size="16.60" font-family="DejaVu Sans" font-stretch="condensed" font-weight="bold" fill="#1f1d1e" textLength="112.68" lengthAdjust="spacingAndGlyphs">PERFORMANCE</text>
<text x="155.42" y="701.50" font-size="11.80" font-family="DejaVu Sans" font-stretch="condensed" fill="#1f1d1e" stroke="#1f1d1e" stroke-width="0.15" textLength="98.06" lengthAdjust="spacingAndGlyphs">(SCALE, 1 TO 10)</text>
<path d="M89.00 735.70 L89.00 726.20 L384.00 726.20" fill="none" stroke="#333" stroke-width="1.5"/>
<path d="M564.00 726.20 L871.30 726.20 L871.30 735.70" fill="none" stroke="#333" stroke-width="1.5"/>
<text x="398.64" y="732.00" font-size="14.54" font-family="Liberation Sans" fill="#1f1d1e" stroke="#1f1d1e" stroke-width="0.3" textLength="143.03" lengthAdjust="spacingAndGlyphs">VIEW FROM ABROAD</text>
<path d="M41.20 788.6 A48.1 48.1 0 0 1 137.40 788.6 Z" fill="#f7f9fa"/>
<path d="M136.30 788.6 A46.199999999999996 46.199999999999996 0 0 1 228.70 788.6 Z" fill="#f7f9fa"/>
<path d="M227.40 788.6 A45.6 45.6 0 0 1 318.60 788.6 Z" fill="#f7f9fa"/>
<path d="M318.00 788.6 A42.3 42.3 0 0 1 402.60 788.6 Z" fill="#f7f9fa"/>
<path d="M402.30 788.6 A42.6 42.6 0 0 1 487.50 788.6 Z" fill="#f7f9fa"/>
<path d="M486.50 788.6 A41.6 41.6 0 0 1 569.70 788.6 Z" fill="#f7f9fa"/>
<path d="M569.50 788.6 A40.9 40.9 0 0 1 651.30 788.6 Z" fill="#f7f9fa"/>
<path d="M651.00 788.6 A39.3 39.3 0 0 1 729.60 788.6 Z" fill="#f7f9fa"/>
<path d="M730.10 788.6 A38.4 38.4 0 0 1 806.90 788.6 Z" fill="#f7f9fa"/>
<path d="M806.50 788.6 A38.1 38.1 0 0 1 882.70 788.6 Z" fill="#f7f9fa"/>
<path d="M42.55 787.25 A46.75 46.75 0 0 1 136.05 787.25 Z" fill="#7896a4" stroke="#628395" stroke-width="0.9"/>
<path d="M137.65 787.25 A44.849999999999994 44.849999999999994 0 0 1 227.35 787.25 Z" fill="#7896a4" stroke="#628395" stroke-width="0.9"/>
<path d="M228.75 787.25 A44.25 44.25 0 0 1 317.25 787.25 Z" fill="#7896a4" stroke="#628395" stroke-width="0.9"/>
<path d="M319.35 787.25 A40.949999999999996 40.949999999999996 0 0 1 401.25 787.25 Z" fill="#7896a4" stroke="#628395" stroke-width="0.9"/>
<path d="M403.65 787.25 A41.25 41.25 0 0 1 486.15 787.25 Z" fill="#7896a4" stroke="#628395" stroke-width="0.9"/>
<path d="M487.85 787.25 A40.25 40.25 0 0 1 568.35 787.25 Z" fill="#7896a4" stroke="#628395" stroke-width="0.9"/>
<path d="M570.85 787.25 A39.55 39.55 0 0 1 649.95 787.25 Z" fill="#7896a4" stroke="#628395" stroke-width="0.9"/>
<path d="M652.35 787.25 A37.949999999999996 37.949999999999996 0 0 1 728.25 787.25 Z" fill="#7896a4" stroke="#628395" stroke-width="0.9"/>
<path d="M731.45 787.25 A37.05 37.05 0 0 1 805.55 787.25 Z" fill="#7896a4" stroke="#628395" stroke-width="0.9"/>
<path d="M807.85 787.25 A36.75 36.75 0 0 1 881.35 787.25 Z" fill="#7896a4" stroke="#628395" stroke-width="0.9"/>
<text x="69.08" y="783.00" font-size="31.40" font-family="Liberation Sans" font-weight="bold" fill="#1f1d1e" textLength="39.41" lengthAdjust="spacingAndGlyphs">7.5</text>
<text x="83.31" y="799.60" font-size="12.06" font-family="Liberation Sans" fill="#1f1d1e" stroke="#1f1d1e" stroke-width="0.35" textLength="12.29" lengthAdjust="spacingAndGlyphs">XI</text>
<text x="162.19" y="783.00" font-size="31.40" font-family="Liberation Sans" font-weight="bold" fill="#1f1d1e" textLength="39.23" lengthAdjust="spacingAndGlyphs">7.3</text>
<text x="166.54" y="799.60" font-size="12.06" font-family="Liberation Sans" fill="#1f1d1e" stroke="#1f1d1e" stroke-width="0.35" textLength="33.65" lengthAdjust="spacingAndGlyphs">MODI</text>
<text x="253.08" y="783.00" font-size="31.40" font-family="Liberation Sans" font-weight="bold" fill="#1f1d1e" textLength="39.56" lengthAdjust="spacingAndGlyphs">7.2</text>
<text x="249.71" y="799.60" font-size="12.06" font-family="Liberation Sans" fill="#1f1d1e" stroke="#1f1d1e" stroke-width="0.35" textLength="49.59" lengthAdjust="spacingAndGlyphs">MERKEL</text>
<text x="339.48" y="783.00" font-size="31.40" font-family="Liberation Sans" font-weight="bold" fill="#1f1d1e" textLength="42.35" lengthAdjust="spacingAndGlyphs">6.8</text>
<text x="343.21" y="799.60" font-size="12.06" font-family="Liberation Sans" fill="#1f1d1e" stroke="#1f1d1e" stroke-width="0.35" textLength="34.71" lengthAdjust="spacingAndGlyphs">ZUMA</text>
<text x="424.38" y="783.00" font-size="31.40" font-family="Liberation Sans" font-weight="bold" fill="#1f1d1e" textLength="42.35" lengthAdjust="spacingAndGlyphs">6.8</text>
<text x="413.54" y="800.60" font-size="12.06" font-family="Liberation Sans" fill="#1f1d1e" stroke="#1f1d1e" stroke-width="0.35" textLength="63.73" lengthAdjust="spacingAndGlyphs">ROUSSEFF</text>
<text x="507.17" y="783.00" font-size="31.40" font-family="Liberation Sans" font-weight="bold" fill="#1f1d1e" textLength="43.05" lengthAdjust="spacingAndGlyphs">6.6</text>
<text x="507.12" y="799.60" font-size="12.06" font-family="Liberation Sans" fill="#1f1d1e" stroke="#1f1d1e" stroke-width="0.35" textLength="44.41" lengthAdjust="spacingAndGlyphs">OBAMA</text>
<text x="589.71" y="783.00" font-size="31.40" font-family="Liberation Sans" font-weight="bold" fill="#1f1d1e" textLength="41.53" lengthAdjust="spacingAndGlyphs">6.5</text>
<text x="580.68" y="799.60" font-size="12.06" font-family="Liberation Sans" fill="#1f1d1e" stroke="#1f1d1e" stroke-width="0.35" textLength="62.62" lengthAdjust="spacingAndGlyphs">CAMERON</text>
<text x="668.90" y="783.00" font-size="31.40" font-family="Liberation Sans" font-weight="bold" fill="#1f1d1e" textLength="41.58" lengthAdjust="spacingAndGlyphs">6.3</text>
<text x="658.59" y="799.60" font-size="12.06" font-family="Liberation Sans" fill="#1f1d1e" stroke="#1f1d1e" stroke-width="0.35" textLength="66.24" lengthAdjust="spacingAndGlyphs">HOLLANDE</text>
<text x="750.03" y="783.00" font-size="31.40" font-family="Liberation Sans" font-weight="bold" fill="#1f1d1e" textLength="36.91" lengthAdjust="spacingAndGlyphs">6.1</text>
<text x="757.38" y="799.60" font-size="12.06" font-family="Liberation Sans" fill="#1f1d1e" stroke="#1f1d1e" stroke-width="0.35" textLength="24.04" lengthAdjust="spacingAndGlyphs">ABE</text>
<text x="823.37" y="783.00" font-size="31.40" font-family="Liberation Sans" font-weight="bold" fill="#1f1d1e" textLength="42.79" lengthAdjust="spacingAndGlyphs">6.0</text>
<text x="826.15" y="799.60" font-size="12.06" font-family="Liberation Sans" fill="#1f1d1e" stroke="#1f1d1e" stroke-width="0.35" textLength="38.29" lengthAdjust="spacingAndGlyphs">PUTIN</text>
<path d="M41.30 883.3 A55.9 55.9 0 0 1 153.10 883.3 Z" fill="#f7f9fa"/>
<path d="M152.60 883.3 A54.9 54.9 0 0 1 262.40 883.3 Z" fill="#f7f9fa"/>
<path d="M261.90 883.3 A54.8 54.8 0 0 1 371.50 883.3 Z" fill="#f7f9fa"/>
<path d="M371.00 883.3 A44.0 44.0 0 0 1 459.00 883.3 Z" fill="#f7f9fa"/>
<path d="M458.20 883.3 A42.3 42.3 0 0 1 542.80 883.3 Z" fill="#f7f9fa"/>
<path d="M542.00 883.3 A39.9 39.9 0 0 1 621.80 883.3 Z" fill="#f7f9fa"/>
<path d="M621.40 883.3 A38.6 38.6 0 0 1 698.60 883.3 Z" fill="#f7f9fa"/>
<path d="M699.00 883.3 A37.6 37.6 0 0 1 774.20 883.3 Z" fill="#f7f9fa"/>
<path d="M773.70 883.3 A34.6 34.6 0 0 1 842.90 883.3 Z" fill="#f7f9fa"/>
<path d="M842.20 883.3 A29.799999999999997 29.799999999999997 0 0 1 901.80 883.3 Z" fill="#f7f9fa"/>
<path d="M42.65 881.9499999999999 A54.55 54.55 0 0 1 151.75 881.9499999999999 Z" fill="#507181" stroke="#426273" stroke-width="0.9"/>
<path d="M153.95 881.9499999999999 A53.55 53.55 0 0 1 261.05 881.9499999999999 Z" fill="#507181" stroke="#426273" stroke-width="0.9"/>
<path d="M263.25 881.9499999999999 A53.449999999999996 53.449999999999996 0 0 1 370.15 881.9499999999999 Z" fill="#507181" stroke="#426273" stroke-width="0.9"/>
<path d="M372.35 881.9499999999999 A42.65 42.65 0 0 1 457.65 881.9499999999999 Z" fill="#507181" stroke="#426273" stroke-width="0.9"/>
<path d="M459.55 881.9499999999999 A40.949999999999996 40.949999999999996 0 0 1 541.45 881.9499999999999 Z" fill="#507181" stroke="#426273" stroke-width="0.9"/>
<path d="M543.35 881.9499999999999 A38.55 38.55 0 0 1 620.45 881.9499999999999 Z" fill="#507181" stroke="#426273" stroke-width="0.9"/>
<path d="M622.75 881.9499999999999 A37.25 37.25 0 0 1 697.25 881.9499999999999 Z" fill="#507181" stroke="#426273" stroke-width="0.9"/>
<path d="M700.35 881.9499999999999 A36.25 36.25 0 0 1 772.85 881.9499999999999 Z" fill="#507181" stroke="#426273" stroke-width="0.9"/>
<path d="M775.05 881.9499999999999 A33.25 33.25 0 0 1 841.55 881.9499999999999 Z" fill="#507181" stroke="#426273" stroke-width="0.9"/>
<path d="M843.55 881.9499999999999 A28.45 28.45 0 0 1 900.45 881.9499999999999 Z" fill="#507181" stroke="#426273" stroke-width="0.9"/>
<text x="76.81" y="880.60" font-size="33.43" font-family="Liberation Sans" font-weight="bold" fill="#ffffff" textLength="43.89" lengthAdjust="spacingAndGlyphs">9.0</text>
<text x="90.27" y="895.00" font-size="12.79" font-family="Liberation Sans" fill="#1f1d1e" stroke="#1f1d1e" stroke-width="0.35" textLength="13.89" lengthAdjust="spacingAndGlyphs">XI</text>
<text x="187.71" y="880.60" font-size="33.43" font-family="Liberation Sans" font-weight="bold" fill="#ffffff" textLength="38.81" lengthAdjust="spacingAndGlyphs">8.7</text>
<text x="189.46" y="893.40" font-size="12.79" font-family="Liberation Sans" fill="#1f1d1e" stroke="#1f1d1e" stroke-width="0.35" textLength="37.86" lengthAdjust="spacingAndGlyphs">PUTIN</text>
<text x="296.99" y="880.60" font-size="33.43" font-family="Liberation Sans" font-weight="bold" fill="#ffffff" textLength="39.76" lengthAdjust="spacingAndGlyphs">8.7</text>
<text x="300.63" y="893.60" font-size="12.79" font-family="Liberation Sans" fill="#1f1d1e" stroke="#1f1d1e" stroke-width="0.35" textLength="34.18" lengthAdjust="spacingAndGlyphs">MODI</text>
<text x="393.01" y="880.60" font-size="31.25" font-family="Liberation Sans" font-weight="bold" fill="#ffffff" textLength="41.72" lengthAdjust="spacingAndGlyphs">7.0</text>
<text x="397.10" y="893.60" font-size="12.79" font-family="Liberation Sans" fill="#1f1d1e" stroke="#1f1d1e" stroke-width="0.35" textLength="35.52" lengthAdjust="spacingAndGlyphs">ZUMA</text>
<text x="479.35" y="880.60" font-size="31.25" font-family="Liberation Sans" font-weight="bold" fill="#ffffff" textLength="40.02" lengthAdjust="spacingAndGlyphs">6.7</text>
<text x="476.63" y="893.60" font-size="12.79" font-family="Liberation Sans" fill="#1f1d1e" stroke="#1f1d1e" stroke-width="0.35" textLength="48.87" lengthAdjust="spacingAndGlyphs">MERKEL</text>
<text x="560.37" y="880.60" font-size="31.25" font-family="Liberation Sans" font-weight="bold" fill="#ffffff" textLength="42.74" lengthAdjust="spacingAndGlyphs">6.3</text>
<text x="550.05" y="894.00" font-size="12.79" font-family="Liberation Sans" fill="#1f1d1e" stroke="#1f1d1e" stroke-width="0.35" textLength="63.32" lengthAdjust="spacingAndGlyphs">ROUSSEFF</text>
<text x="638.00" y="880.60" font-size="31.25" font-family="Liberation Sans" font-weight="bold" fill="#ffffff" textLength="41.91" lengthAdjust="spacingAndGlyphs">6.2</text>
<text x="637.71" y="895.60" font-size="12.79" font-family="Liberation Sans" fill="#1f1d1e" stroke="#1f1d1e" stroke-width="0.35" textLength="45.12" lengthAdjust="spacingAndGlyphs">OBAMA</text>
<text x="714.77" y="880.60" font-size="31.25" font-family="Liberation Sans" font-weight="bold" fill="#ffffff" textLength="42.90" lengthAdjust="spacingAndGlyphs">6.0</text>
<text x="725.18" y="895.60" font-size="12.79" font-family="Liberation Sans" fill="#1f1d1e" stroke="#1f1d1e" stroke-width="0.35" textLength="24.04" lengthAdjust="spacingAndGlyphs">ABE</text>
<text x="785.74" y="880.60" font-size="29.80" font-family="Liberation Sans" font-weight="bold" fill="#ffffff" textLength="43.43" lengthAdjust="spacingAndGlyphs">5.5</text>
<text x="777.18" y="894.00" font-size="12.79" font-family="Liberation Sans" fill="#1f1d1e" stroke="#1f1d1e" stroke-width="0.35" textLength="62.21" lengthAdjust="spacingAndGlyphs">CAMERON</text>
<text x="848.83" y="880.60" font-size="29.80" font-family="Liberation Sans" font-weight="bold" fill="#ffffff" textLength="43.12" lengthAdjust="spacingAndGlyphs">4.8</text>
<text x="842.56" y="894.80" font-size="12.79" font-family="Liberation Sans" font-weight="bold" fill="#1f1d1e" textLength="61.78" lengthAdjust="spacingAndGlyphs">HOLLANDE</text>
<path d="M97.00 908.70 L97.00 916.60 L384.00 916.60" fill="none" stroke="#333" stroke-width="1.5"/>
<path d="M565.60 916.60 L871.50 916.60 L871.50 909.00" fill="none" stroke="#333" stroke-width="1.5"/>
<text x="407.94" y="922.10" font-size="14.83" font-family="Liberation Sans" fill="#1f1d1e" stroke="#1f1d1e" stroke-width="0.3" textLength="125.15" lengthAdjust="spacingAndGlyphs">VIEW FROM HOME</text>
<text x="40.55" y="978.40" font-size="17.42" font-family="DejaVu Sans" font-stretch="condensed" font-weight="bold" fill="#1f1d1e" textLength="346.40" lengthAdjust="spacingAndGlyphs">CONFIDENCE IN HANDLING DOMESTIC AFFAIRS</text>
<rect x="104.00" y="1020.80" width="327.00" height="17.40" fill="#c1cab0"/>
<text x="51.70" y="1033.80" font-size="12.65" font-family="Liberation Sans" fill="#1f1d1e" stroke="#1f1d1e" stroke-width="0.35" textLength="49.40" lengthAdjust="spacingAndGlyphs">MERKEL</text>
<text x="106.16" y="1034.50" font-size="12.79" font-family="Liberation Sans" font-weight="bold" fill="#1f1d1e" textLength="40.62" lengthAdjust="spacingAndGlyphs">79.7%</text>
<rect x="104.00" y="1045.05" width="321.50" height="17.40" fill="#c1cab0"/>
<text x="90.46" y="1058.05" font-size="12.65" font-family="Liberation Sans" fill="#1f1d1e" stroke="#1f1d1e" stroke-width="0.35" textLength="11.35" lengthAdjust="spacingAndGlyphs">XI</text>
<text x="106.16" y="1058.75" font-size="12.79" font-family="Liberation Sans" font-weight="bold" fill="#1f1d1e" textLength="40.62" lengthAdjust="spacingAndGlyphs">78.5%</text>
<rect x="104.00" y="1069.30" width="294.80" height="17.40" fill="#c1cab0"/>
<text x="70.44" y="1082.30" font-size="12.65" font-family="Liberation Sans" fill="#1f1d1e" stroke="#1f1d1e" stroke-width="0.35" textLength="31.36" lengthAdjust="spacingAndGlyphs">MODI</text>
<text x="106.16" y="1083.00" font-size="12.79" font-family="Liberation Sans" font-weight="bold" fill="#1f1d1e" textLength="40.62" lengthAdjust="spacingAndGlyphs">72.5%</text>
<rect x="104.00" y="1093.55" width="288.30" height="17.40" fill="#c1cab0"/>
<text x="40.28" y="1106.55" font-size="12.65" font-family="Liberation Sans" fill="#1f1d1e" stroke="#1f1d1e" stroke-width="0.35" textLength="61.40" lengthAdjust="spacingAndGlyphs">CAMERON</text>
<text x="106.16" y="1107.25" font-size="12.79" font-family="Liberation Sans" font-weight="bold" fill="#1f1d1e" textLength="40.62" lengthAdjust="spacingAndGlyphs">67.2%</text>
<rect x="104.00" y="1117.80" width="284.40" height="17.40" fill="#c1cab0"/>
<text x="57.33" y="1130.80" font-size="12.65" font-family="Liberation Sans" fill="#1f1d1e" stroke="#1f1d1e" stroke-width="0.35" textLength="43.39" lengthAdjust="spacingAndGlyphs">OBAMA</text>
<text x="106.16" y="1131.50" font-size="12.79" font-family="Liberation Sans" font-weight="bold" fill="#1f1d1e" textLength="40.62" lengthAdjust="spacingAndGlyphs">64.5%</text>
<rect x="104.00" y="1142.05" width="273.00" height="17.40" fill="#c1cab0"/>
<text x="66.69" y="1155.05" font-size="12.65" font-family="Liberation Sans" fill="#1f1d1e" stroke="#1f1d1e" stroke-width="0.35" textLength="34.03" lengthAdjust="spacingAndGlyphs">ZUMA</text>
<text x="106.16" y="1155.75" font-size="12.79" font-family="Liberation Sans" font-weight="bold" fill="#1f1d1e" textLength="40.62" lengthAdjust="spacingAndGlyphs">62.0%</text>
<rect x="104.00" y="1166.30" width="265.30" height="17.40" fill="#c1cab0"/>
<text x="65.64" y="1179.30" font-size="12.65" font-family="Liberation Sans" fill="#1f1d1e" stroke="#1f1d1e" stroke-width="0.35" textLength="36.04" lengthAdjust="spacingAndGlyphs">PUTIN</text>
<text x="106.16" y="1180.00" font-size="12.79" font-family="Liberation Sans" font-weight="bold" fill="#1f1d1e" textLength="40.62" lengthAdjust="spacingAndGlyphs">60.2%</text>
<rect x="104.00" y="1190.55" width="264.10" height="17.40" fill="#c1cab0"/>
<text x="35.77" y="1203.55" font-size="12.65" font-family="Liberation Sans" fill="#1f1d1e" stroke="#1f1d1e" stroke-width="0.35" textLength="65.41" lengthAdjust="spacingAndGlyphs">ROUSSEFF</text>
<text x="106.16" y="1204.25" font-size="12.79" font-family="Liberation Sans" font-weight="bold" fill="#1f1d1e" textLength="40.62" lengthAdjust="spacingAndGlyphs">59.9%</text>
<rect x="104.00" y="1214.80" width="253.00" height="17.40" fill="#c1cab0"/>
<text x="36.46" y="1227.80" font-size="12.65" font-family="Liberation Sans" fill="#1f1d1e" stroke="#1f1d1e" stroke-width="0.35" textLength="64.76" lengthAdjust="spacingAndGlyphs">HOLLANDE</text>
<text x="106.16" y="1228.50" font-size="12.79" font-family="Liberation Sans" font-weight="bold" fill="#1f1d1e" textLength="40.62" lengthAdjust="spacingAndGlyphs">57.4%</text>
<rect x="104.00" y="1239.05" width="187.10" height="17.40" fill="#c1cab0"/>
<text x="77.18" y="1252.05" font-size="12.65" font-family="Liberation Sans" fill="#1f1d1e" stroke="#1f1d1e" stroke-width="0.35" textLength="24.04" lengthAdjust="spacingAndGlyphs">ABE</text>
<text x="106.16" y="1252.75" font-size="12.79" font-family="Liberation Sans" font-weight="bold" fill="#1f1d1e" textLength="40.62" lengthAdjust="spacingAndGlyphs">42.5%</text>
<rect x="500.00" y="1020.80" width="417.60" height="17.40" fill="#9ba77e"/>
<text x="486.46" y="1033.80" font-size="12.65" font-family="Liberation Sans" fill="#1f1d1e" stroke="#1f1d1e" stroke-width="0.35" textLength="11.35" lengthAdjust="spacingAndGlyphs">XI</text>
<text x="502.80" y="1034.50" font-size="12.79" font-family="Liberation Sans" font-weight="bold" fill="#1f1d1e" textLength="40.62" lengthAdjust="spacingAndGlyphs">94.8%</text>
<rect x="500.00" y="1045.05" width="410.50" height="17.40" fill="#9ba77e"/>
<text x="466.44" y="1058.05" font-size="12.65" font-family="Liberation Sans" fill="#1f1d1e" stroke="#1f1d1e" stroke-width="0.35" textLength="31.36" lengthAdjust="spacingAndGlyphs">MODI</text>
<text x="502.80" y="1058.75" font-size="12.79" font-family="Liberation Sans" font-weight="bold" fill="#1f1d1e" textLength="40.62" lengthAdjust="spacingAndGlyphs">93.2%</text>
<rect x="500.00" y="1069.30" width="380.20" height="17.40" fill="#9ba77e"/>
<text x="461.64" y="1082.30" font-size="12.65" font-family="Liberation Sans" fill="#1f1d1e" stroke="#1f1d1e" stroke-width="0.35" textLength="36.04" lengthAdjust="spacingAndGlyphs">PUTIN</text>
<text x="502.85" y="1083.00" font-size="12.79" font-family="Liberation Sans" font-weight="bold" fill="#1f1d1e" textLength="40.62" lengthAdjust="spacingAndGlyphs">86.2%</text>
<rect x="500.00" y="1093.55" width="278.60" height="17.40" fill="#9ba77e"/>
<text x="447.70" y="1106.55" font-size="12.65" font-family="Liberation Sans" fill="#1f1d1e" stroke="#1f1d1e" stroke-width="0.35" textLength="49.40" lengthAdjust="spacingAndGlyphs">MERKEL</text>
<text x="502.78" y="1107.25" font-size="12.79" font-family="Liberation Sans" font-weight="bold" fill="#1f1d1e" textLength="40.62" lengthAdjust="spacingAndGlyphs">63.2%</text>
<rect x="500.00" y="1117.80" width="227.60" height="17.40" fill="#9ba77e"/>
<text x="453.33" y="1130.80" font-size="12.65" font-family="Liberation Sans" fill="#1f1d1e" stroke="#1f1d1e" stroke-width="0.35" textLength="43.39" lengthAdjust="spacingAndGlyphs">OBAMA</text>
<text x="502.86" y="1131.50" font-size="12.79" font-family="Liberation Sans" font-weight="bold" fill="#1f1d1e" textLength="40.62" lengthAdjust="spacingAndGlyphs">51.7%</text>
<rect x="500.00" y="1142.05" width="221.30" height="17.40" fill="#9ba77e"/>
<text x="473.18" y="1155.05" font-size="12.65" font-family="Liberation Sans" fill="#1f1d1e" stroke="#1f1d1e" stroke-width="0.35" textLength="24.04" lengthAdjust="spacingAndGlyphs">ABE</text>
<text x="502.86" y="1155.75" font-size="12.79" font-family="Liberation Sans" font-weight="bold" fill="#1f1d1e" textLength="40.62" lengthAdjust="spacingAndGlyphs">50.3%</text>
<rect x="500.00" y="1166.30" width="214.30" height="17.40" fill="#9ba77e"/>
<text x="436.28" y="1179.30" font-size="12.65" font-family="Liberation Sans" fill="#1f1d1e" stroke="#1f1d1e" stroke-width="0.35" textLength="61.40" lengthAdjust="spacingAndGlyphs">CAMERON</text>
<text x="503.08" y="1180.00" font-size="12.79" font-family="Liberation Sans" font-weight="bold" fill="#1f1d1e" textLength="40.62" lengthAdjust="spacingAndGlyphs">48.6%</text>
<rect x="500.00" y="1190.55" width="129.60" height="17.40" fill="#9ba77e"/>
<text x="431.77" y="1203.55" font-size="12.65" font-family="Liberation Sans" fill="#1f1d1e" stroke="#1f1d1e" stroke-width="0.35" textLength="65.41" lengthAdjust="spacingAndGlyphs">ROUSSEFF</text>
<text x="502.80" y="1204.25" font-size="12.79" font-family="Liberation Sans" font-weight="bold" fill="#1f1d1e" textLength="40.62" lengthAdjust="spacingAndGlyphs">29.5%</text>
<rect x="500.00" y="1214.80" width="109.30" height="17.40" fill="#9ba77e"/>
<text x="432.46" y="1227.80" font-size="12.65" font-family="Liberation Sans" fill="#1f1d1e" stroke="#1f1d1e" stroke-width="0.35" textLength="64.76" lengthAdjust="spacingAndGlyphs">HOLLANDE</text>
<text x="502.80" y="1228.50" font-size="12.79" font-family="Liberation Sans" font-weight="bold" fill="#1f1d1e" textLength="40.62" lengthAdjust="spacingAndGlyphs">24.8%</text>
<rect x="500.00" y="1239.05" width="56.60" height="17.40" fill="#9ba77e"/>
<text x="462.69" y="1252.05" font-size="12.65" font-family="Liberation Sans" fill="#1f1d1e" stroke="#1f1d1e" stroke-width="0.35" textLength="34.03" lengthAdjust="spacingAndGlyphs">ZUMA</text>
<text x="502.40" y="1252.75" font-size="12.79" font-family="Liberation Sans" font-weight="bold" fill="#1f1d1e" textLength="40.62" lengthAdjust="spacingAndGlyphs">12.8%</text>
<path d="M106.00 1011.90 L106.00 1002.50 L191.50 1002.50" fill="none" stroke="#707070" stroke-width="1.3"/>
<path d="M340.40 1002.50 L429.80 1002.50 L429.80 1011.90" fill="none" stroke="#707070" stroke-width="1.3"/>
<text x="204.95" y="1007.40" font-size="12.50" font-family="Liberation Sans" fill="#1f1d1e" stroke="#1f1d1e" stroke-width="0.25" textLength="122.92" lengthAdjust="spacingAndGlyphs">VIEW FROM ABROAD</text>
<path d="M500.40 1012.20 L500.40 1002.80 L638.30 1002.80" fill="none" stroke="#707070" stroke-width="1.3"/>
<path d="M784.80 1002.80 L916.80 1002.80 L916.80 1012.20" fill="none" stroke="#707070" stroke-width="1.3"/>
<text x="654.95" y="1007.40" font-size="12.50" font-family="Liberation Sans" fill="#1f1d1e" stroke="#1f1d1e" stroke-width="0.25" textLength="107.56" lengthAdjust="spacingAndGlyphs">VIEW FROM HOME</text>
<text x="37.95" y="1295.30" font-size="17.42" font-family="DejaVu Sans" font-stretch="condensed" font-weight="bold" fill="#1f1d1e" textLength="389.00" lengthAdjust="spacingAndGlyphs">CONFIDENCE IN HANDLING INTERNATIONAL AFFAIRS</text>
<rect x="101.00" y="1333.10" width="339.90" height="17.40" fill="#f3ae95"/>
<text x="48.70" y="1346.10" font-size="12.65" font-family="Liberation Sans" fill="#1f1d1e" stroke="#1f1d1e" stroke-width="0.35" textLength="49.40" lengthAdjust="spacingAndGlyphs">MERKEL</text>
<text x="103.86" y="1346.80" font-size="12.79" font-family="Liberation Sans" font-weight="bold" fill="#1f1d1e" textLength="40.62" lengthAdjust="spacingAndGlyphs">77.2%</text>
<rect x="101.00" y="1357.40" width="336.70" height="17.40" fill="#f3ae95"/>
<text x="87.46" y="1370.40" font-size="12.65" font-family="Liberation Sans" fill="#1f1d1e" stroke="#1f1d1e" stroke-width="0.35" textLength="11.35" lengthAdjust="spacingAndGlyphs">XI</text>
<text x="103.86" y="1371.10" font-size="12.79" font-family="Liberation Sans" font-weight="bold" fill="#1f1d1e" textLength="40.62" lengthAdjust="spacingAndGlyphs">76.5%</text>
<rect x="101.00" y="1381.70" width="307.30" height="17.40" fill="#f3ae95"/>
<text x="67.44" y="1394.70" font-size="12.65" font-family="Liberation Sans" fill="#1f1d1e" stroke="#1f1d1e" stroke-width="0.35" textLength="31.36" lengthAdjust="spacingAndGlyphs">MODI</text>
<text x="103.86" y="1395.40" font-size="12.79" font-family="Liberation Sans" font-weight="bold" fill="#1f1d1e" textLength="40.62" lengthAdjust="spacingAndGlyphs">69.8%</text>
<rect x="101.00" y="1406.00" width="294.10" height="17.40" fill="#f3ae95"/>
<text x="37.28" y="1419.00" font-size="12.65" font-family="Liberation Sans" fill="#1f1d1e" stroke="#1f1d1e" stroke-width="0.35" textLength="61.40" lengthAdjust="spacingAndGlyphs">CAMERON</text>
<text x="103.86" y="1419.70" font-size="12.79" font-family="Liberation Sans" font-weight="bold" fill="#1f1d1e" textLength="40.62" lengthAdjust="spacingAndGlyphs">66.8%</text>
<rect x="101.00" y="1430.30" width="282.40" height="17.40" fill="#f3ae95"/>
<text x="54.33" y="1443.30" font-size="12.65" font-family="Liberation Sans" fill="#1f1d1e" stroke="#1f1d1e" stroke-width="0.35" textLength="43.39" lengthAdjust="spacingAndGlyphs">OBAMA</text>
<text x="103.86" y="1444.00" font-size="12.79" font-family="Liberation Sans" font-weight="bold" fill="#1f1d1e" textLength="40.62" lengthAdjust="spacingAndGlyphs">64.2%</text>
<rect x="101.00" y="1454.60" width="267.50" height="17.40" fill="#f3ae95"/>
<text x="32.77" y="1467.60" font-size="12.65" font-family="Liberation Sans" fill="#1f1d1e" stroke="#1f1d1e" stroke-width="0.35" textLength="65.41" lengthAdjust="spacingAndGlyphs">ROUSSEFF</text>
<text x="103.86" y="1468.30" font-size="12.79" font-family="Liberation Sans" font-weight="bold" fill="#1f1d1e" textLength="40.62" lengthAdjust="spacingAndGlyphs">60.8%</text>
<rect x="101.00" y="1478.90" width="260.50" height="17.40" fill="#f3ae95"/>
<text x="63.69" y="1491.90" font-size="12.65" font-family="Liberation Sans" fill="#1f1d1e" stroke="#1f1d1e" stroke-width="0.35" textLength="34.03" lengthAdjust="spacingAndGlyphs">ZUMA</text>
<text x="103.86" y="1492.60" font-size="12.79" font-family="Liberation Sans" font-weight="bold" fill="#1f1d1e" textLength="40.62" lengthAdjust="spacingAndGlyphs">59.2%</text>
<rect x="101.00" y="1503.20" width="259.00" height="17.40" fill="#f3ae95"/>
<text x="62.64" y="1516.20" font-size="12.65" font-family="Liberation Sans" fill="#1f1d1e" stroke="#1f1d1e" stroke-width="0.35" textLength="36.04" lengthAdjust="spacingAndGlyphs">PUTIN</text>
<text x="103.86" y="1516.90" font-size="12.79" font-family="Liberation Sans" font-weight="bold" fill="#1f1d1e" textLength="40.62" lengthAdjust="spacingAndGlyphs">58.9%</text>
<rect x="101.00" y="1527.50" width="258.10" height="17.40" fill="#f3ae95"/>
<text x="33.46" y="1540.50" font-size="12.65" font-family="Liberation Sans" fill="#1f1d1e" stroke="#1f1d1e" stroke-width="0.35" textLength="64.76" lengthAdjust="spacingAndGlyphs">HOLLANDE</text>
<text x="103.86" y="1541.20" font-size="12.79" font-family="Liberation Sans" font-weight="bold" fill="#1f1d1e" textLength="40.62" lengthAdjust="spacingAndGlyphs">58.7%</text>
<rect x="101.00" y="1551.80" width="177.10" height="17.40" fill="#f3ae95"/>
<text x="74.18" y="1564.80" font-size="12.65" font-family="Liberation Sans" fill="#1f1d1e" stroke="#1f1d1e" stroke-width="0.35" textLength="24.04" lengthAdjust="spacingAndGlyphs">ABE</text>
<text x="103.86" y="1565.50" font-size="12.79" font-family="Liberation Sans" font-weight="bold" fill="#1f1d1e" textLength="40.62" lengthAdjust="spacingAndGlyphs">40.3%</text>
<rect x="501.30" y="1333.10" width="413.40" height="17.40" fill="#d4826a"/>
<text x="487.76" y="1346.10" font-size="12.65" font-family="Liberation Sans" fill="#1f1d1e" stroke="#1f1d1e" stroke-width="0.35" textLength="11.35" lengthAdjust="spacingAndGlyphs">XI</text>
<text x="505.06" y="1346.80" font-size="12.79" font-family="Liberation Sans" font-weight="bold" fill="#ffffff" textLength="40.62" lengthAdjust="spacingAndGlyphs">93.8%</text>
<rect x="501.30" y="1357.40" width="411.10" height="17.40" fill="#d4826a"/>
<text x="467.74" y="1370.40" font-size="12.65" font-family="Liberation Sans" fill="#1f1d1e" stroke="#1f1d1e" stroke-width="0.35" textLength="31.36" lengthAdjust="spacingAndGlyphs">MODI</text>
<text x="505.06" y="1371.10" font-size="12.79" font-family="Liberation Sans" font-weight="bold" fill="#ffffff" textLength="40.62" lengthAdjust="spacingAndGlyphs">93.3%</text>
<rect x="501.30" y="1381.70" width="378.80" height="17.40" fill="#d4826a"/>
<text x="462.94" y="1394.70" font-size="12.65" font-family="Liberation Sans" fill="#1f1d1e" stroke="#1f1d1e" stroke-width="0.35" textLength="36.04" lengthAdjust="spacingAndGlyphs">PUTIN</text>
<text x="505.06" y="1395.40" font-size="12.79" font-family="Liberation Sans" font-weight="bold" fill="#ffffff" textLength="40.62" lengthAdjust="spacingAndGlyphs">86.0%</text>
<rect x="501.30" y="1406.00" width="278.40" height="17.40" fill="#d4826a"/>
<text x="449.00" y="1419.00" font-size="12.65" font-family="Liberation Sans" fill="#1f1d1e" stroke="#1f1d1e" stroke-width="0.35" textLength="49.40" lengthAdjust="spacingAndGlyphs">MERKEL</text>
<text x="505.06" y="1419.70" font-size="12.79" font-family="Liberation Sans" font-weight="bold" fill="#ffffff" textLength="40.62" lengthAdjust="spacingAndGlyphs">63.2%</text>
<rect x="501.30" y="1430.30" width="217.40" height="17.40" fill="#d4826a"/>
<text x="437.58" y="1443.30" font-size="12.65" font-family="Liberation Sans" fill="#1f1d1e" stroke="#1f1d1e" stroke-width="0.35" textLength="61.40" lengthAdjust="spacingAndGlyphs">CAMERON</text>
<text x="505.06" y="1444.00" font-size="12.79" font-family="Liberation Sans" font-weight="bold" fill="#ffffff" textLength="40.62" lengthAdjust="spacingAndGlyphs">49.4%</text>
<rect x="501.30" y="1454.60" width="216.20" height="17.40" fill="#d4826a"/>
<text x="454.63" y="1467.60" font-size="12.65" font-family="Liberation Sans" fill="#1f1d1e" stroke="#1f1d1e" stroke-width="0.35" textLength="43.39" lengthAdjust="spacingAndGlyphs">OBAMA</text>
<text x="505.06" y="1468.30" font-size="12.79" font-family="Liberation Sans" font-weight="bold" fill="#ffffff" textLength="40.62" lengthAdjust="spacingAndGlyphs">49.1%</text>
<rect x="501.30" y="1478.90" width="211.10" height="17.40" fill="#d4826a"/>
<text x="474.48" y="1491.90" font-size="12.65" font-family="Liberation Sans" fill="#1f1d1e" stroke="#1f1d1e" stroke-width="0.35" textLength="24.04" lengthAdjust="spacingAndGlyphs">ABE</text>
<text x="505.06" y="1492.60" font-size="12.79" font-family="Liberation Sans" font-weight="bold" fill="#ffffff" textLength="40.62" lengthAdjust="spacingAndGlyphs">48.0%</text>
<rect x="501.30" y="1503.20" width="160.30" height="17.40" fill="#d4826a"/>
<text x="433.07" y="1516.20" font-size="12.65" font-family="Liberation Sans" fill="#1f1d1e" stroke="#1f1d1e" stroke-width="0.35" textLength="65.41" lengthAdjust="spacingAndGlyphs">ROUSSEFF</text>
<text x="505.06" y="1516.90" font-size="12.79" font-family="Liberation Sans" font-weight="bold" fill="#ffffff" textLength="40.62" lengthAdjust="spacingAndGlyphs">36.4%</text>
<rect x="501.30" y="1527.50" width="149.70" height="17.40" fill="#d4826a"/>
<text x="433.76" y="1540.50" font-size="12.65" font-family="Liberation Sans" fill="#1f1d1e" stroke="#1f1d1e" stroke-width="0.35" textLength="64.76" lengthAdjust="spacingAndGlyphs">HOLLANDE</text>
<text x="505.06" y="1541.20" font-size="12.79" font-family="Liberation Sans" font-weight="bold" fill="#ffffff" textLength="40.62" lengthAdjust="spacingAndGlyphs">34.0%</text>
<rect x="501.30" y="1551.80" width="79.20" height="17.40" fill="#d4826a"/>
<text x="463.99" y="1564.80" font-size="12.65" font-family="Liberation Sans" fill="#1f1d1e" stroke="#1f1d1e" stroke-width="0.35" textLength="34.03" lengthAdjust="spacingAndGlyphs">ZUMA</text>
<text x="505.06" y="1565.50" font-size="12.79" font-family="Liberation Sans" font-weight="bold" fill="#ffffff" textLength="40.62" lengthAdjust="spacingAndGlyphs">18.0%</text>
<path d="M101.80 1326.20 L101.80 1316.80 L191.60 1316.80" fill="none" stroke="#707070" stroke-width="1.3"/>
<path d="M339.80 1316.80 L440.40 1316.80 L440.40 1326.20" fill="none" stroke="#707070" stroke-width="1.3"/>
<text x="212.15" y="1321.30" font-size="12.50" font-family="Liberation Sans" fill="#1f1d1e" stroke="#1f1d1e" stroke-width="0.25" textLength="122.92" lengthAdjust="spacingAndGlyphs">VIEW FROM ABROAD</text>
<path d="M502.30 1327.40 L502.30 1318.00 L636.00 1318.00" fill="none" stroke="#707070" stroke-width="1.3"/>
<path d="M775.70 1318.00 L913.10 1318.00 L913.10 1327.40" fill="none" stroke="#707070" stroke-width="1.3"/>
<text x="652.45" y="1322.40" font-size="12.50" font-family="Liberation Sans" fill="#1f1d1e" stroke="#1f1d1e" stroke-width="0.25" textLength="108.07" lengthAdjust="spacingAndGlyphs">VIEW FROM HOME</text>
<text x="454.91" y="1592.60" font-size="12.06" font-family="Liberation Sans" font-weight="bold" fill="#1f1d1e" textLength="462.50" lengthAdjust="spacingAndGlyphs">Source: Brief Report for Global Public's Cognition on Image of Major Countries and Their Leaders</text>
</svg>
</body></html>
